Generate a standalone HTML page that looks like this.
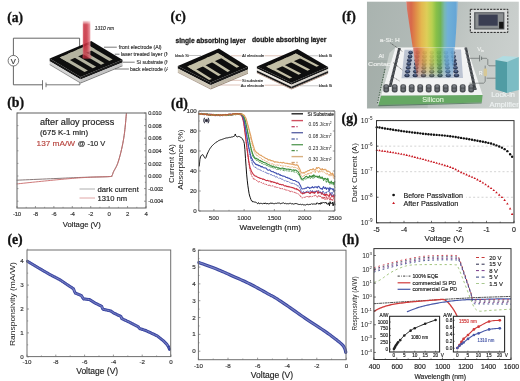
<!DOCTYPE html>
<html><head><meta charset="utf-8"><style>
html,body{margin:0;padding:0;background:#fff;}
svg{display:block;}
</style></head><body>
<svg width="520" height="381" viewBox="0 0 520 381">
<rect width="520" height="381" fill="#fff"/>
<polyline points="17.00,180.20 19.23,180.10 22.16,179.98 25.64,179.82 29.53,179.66 33.70,179.47 38.01,179.29 42.32,179.10 46.49,178.92 50.38,178.75 53.86,178.60 56.99,178.46 59.98,178.33 62.83,178.20 65.58,178.07 68.25,177.95 70.89,177.83 73.50,177.72 76.12,177.61 78.78,177.50 81.50,177.40 84.38,177.30 87.43,177.22 90.58,177.14 93.75,177.06 96.88,176.99 99.88,176.92 102.68,176.84 105.21,176.77 107.39,176.69 109.14,176.60 110.43,176.52 111.31,176.46 111.83,176.41 112.09,176.36 112.15,176.31 112.07,176.23 111.94,176.13 111.82,176.00 111.79,175.83 111.91,175.60 112.11,175.33 112.28,175.04 112.42,174.72 112.55,174.37 112.68,173.99 112.81,173.57 112.96,173.11 113.13,172.62 113.34,172.08 113.60,171.50 113.91,170.88 114.25,170.25 114.63,169.58 115.04,168.87 115.46,168.12 115.90,167.32 116.33,166.46 116.77,165.55 117.19,164.56 117.60,163.50 118.00,162.35 118.40,161.11 118.81,159.80 119.22,158.42 119.62,156.99 120.02,155.52 120.41,154.03 120.79,152.52 121.15,151.00 121.50,149.50 121.83,148.01 122.16,146.51 122.47,145.00 122.78,143.48 123.07,141.93 123.35,140.35 123.63,138.74 123.89,137.08 124.15,135.37 124.40,133.60 124.65,131.67 124.89,129.53 125.13,127.25 125.36,124.90 125.58,122.56 125.79,120.29 125.98,118.18 126.14,116.30 126.29,114.71 126.40,113.50" fill="none" stroke="#7a6a6a" stroke-width="0.9" stroke-linejoin="round" stroke-linecap="round" />
<polyline points="17.00,183.90 18.64,183.73 20.76,183.50 23.26,183.23 26.07,182.93 29.09,182.61 32.26,182.28 35.48,181.94 38.67,181.61 41.75,181.29 44.64,181.00 47.45,180.72 50.32,180.44 53.23,180.15 56.14,179.87 59.04,179.59 61.89,179.32 64.67,179.07 67.35,178.83 69.89,178.60 72.29,178.40 74.50,178.22 76.56,178.06 78.49,177.92 80.32,177.79 82.08,177.68 83.79,177.57 85.48,177.47 87.18,177.38 88.91,177.29 90.71,177.20 92.63,177.12 94.65,177.04 96.74,176.98 98.84,176.93 100.91,176.87 102.90,176.83 104.77,176.78 106.46,176.72 107.93,176.67 109.14,176.60 110.06,176.54 110.72,176.51 111.16,176.48 111.43,176.45 111.57,176.42 111.63,176.37 111.65,176.29 111.67,176.17 111.74,176.01 111.91,175.80 112.11,175.54 112.28,175.25 112.42,174.94 112.55,174.58 112.68,174.20 112.81,173.78 112.96,173.32 113.13,172.82 113.34,172.28 113.60,171.70 113.91,171.08 114.25,170.45 114.63,169.78 115.04,169.07 115.46,168.32 115.90,167.52 116.33,166.66 116.77,165.75 117.19,164.76 117.60,163.70 118.00,162.55 118.40,161.31 118.81,160.00 119.22,158.62 119.62,157.19 120.02,155.72 120.41,154.23 120.79,152.72 121.15,151.20 121.50,149.70 121.83,148.21 122.16,146.71 122.47,145.21 122.78,143.69 123.07,142.14 123.35,140.57 123.63,138.95 123.89,137.29 124.15,135.58 124.40,133.80 124.65,131.86 124.89,129.70 125.13,127.39 125.36,125.02 125.58,122.66 125.79,120.37 125.98,118.24 126.14,116.33 126.29,114.73 126.40,113.50" fill="none" stroke="#c86a6a" stroke-width="0.9" stroke-linejoin="round" stroke-linecap="round" />
<rect x="17.00" y="113.00" width="129.00" height="95.00" fill="none" stroke="#6e6e6e" stroke-width="1.1" />
<line x1="17.00" y1="208.00" x2="17.00" y2="206.00" stroke="#6e6e6e" stroke-width="0.7" />
<text x="17.00" y="215.60" font-size="6.0" fill="#333" stroke="#333" stroke-width="0.16" text-anchor="middle" font-weight="normal" font-family="'Liberation Sans', Arial, sans-serif" font-style="normal" letter-spacing="-0.3">-10</text>
<line x1="35.43" y1="208.00" x2="35.43" y2="206.00" stroke="#6e6e6e" stroke-width="0.7" />
<text x="35.43" y="215.60" font-size="6.0" fill="#333" stroke="#333" stroke-width="0.16" text-anchor="middle" font-weight="normal" font-family="'Liberation Sans', Arial, sans-serif" font-style="normal" letter-spacing="-0.3">-8</text>
<line x1="53.86" y1="208.00" x2="53.86" y2="206.00" stroke="#6e6e6e" stroke-width="0.7" />
<text x="53.86" y="215.60" font-size="6.0" fill="#333" stroke="#333" stroke-width="0.16" text-anchor="middle" font-weight="normal" font-family="'Liberation Sans', Arial, sans-serif" font-style="normal" letter-spacing="-0.3">-6</text>
<line x1="72.29" y1="208.00" x2="72.29" y2="206.00" stroke="#6e6e6e" stroke-width="0.7" />
<text x="72.29" y="215.60" font-size="6.0" fill="#333" stroke="#333" stroke-width="0.16" text-anchor="middle" font-weight="normal" font-family="'Liberation Sans', Arial, sans-serif" font-style="normal" letter-spacing="-0.3">-4</text>
<line x1="90.71" y1="208.00" x2="90.71" y2="206.00" stroke="#6e6e6e" stroke-width="0.7" />
<text x="90.71" y="215.60" font-size="6.0" fill="#333" stroke="#333" stroke-width="0.16" text-anchor="middle" font-weight="normal" font-family="'Liberation Sans', Arial, sans-serif" font-style="normal" letter-spacing="-0.3">-2</text>
<line x1="109.14" y1="208.00" x2="109.14" y2="206.00" stroke="#6e6e6e" stroke-width="0.7" />
<text x="109.14" y="215.60" font-size="6.0" fill="#333" stroke="#333" stroke-width="0.16" text-anchor="middle" font-weight="normal" font-family="'Liberation Sans', Arial, sans-serif" font-style="normal" letter-spacing="-0.3">0</text>
<line x1="127.57" y1="208.00" x2="127.57" y2="206.00" stroke="#6e6e6e" stroke-width="0.7" />
<text x="127.57" y="215.60" font-size="6.0" fill="#333" stroke="#333" stroke-width="0.16" text-anchor="middle" font-weight="normal" font-family="'Liberation Sans', Arial, sans-serif" font-style="normal" letter-spacing="-0.3">2</text>
<line x1="146.00" y1="208.00" x2="146.00" y2="206.00" stroke="#6e6e6e" stroke-width="0.7" />
<text x="146.00" y="215.60" font-size="6.0" fill="#333" stroke="#333" stroke-width="0.16" text-anchor="middle" font-weight="normal" font-family="'Liberation Sans', Arial, sans-serif" font-style="normal" letter-spacing="-0.3">4</text>
<line x1="26.21" y1="208.00" x2="26.21" y2="206.80" stroke="#6e6e6e" stroke-width="0.6" />
<line x1="44.64" y1="208.00" x2="44.64" y2="206.80" stroke="#6e6e6e" stroke-width="0.6" />
<line x1="63.07" y1="208.00" x2="63.07" y2="206.80" stroke="#6e6e6e" stroke-width="0.6" />
<line x1="81.50" y1="208.00" x2="81.50" y2="206.80" stroke="#6e6e6e" stroke-width="0.6" />
<line x1="99.93" y1="208.00" x2="99.93" y2="206.80" stroke="#6e6e6e" stroke-width="0.6" />
<line x1="118.36" y1="208.00" x2="118.36" y2="206.80" stroke="#6e6e6e" stroke-width="0.6" />
<line x1="136.79" y1="208.00" x2="136.79" y2="206.80" stroke="#6e6e6e" stroke-width="0.6" />
<line x1="146.00" y1="113.00" x2="144.00" y2="113.00" stroke="#6e6e6e" stroke-width="0.7" />
<text x="148.30" y="115.10" font-size="5.6" fill="#333" stroke="#333" stroke-width="0.16" text-anchor="start" font-weight="normal" font-family="'Liberation Sans', Arial, sans-serif" font-style="normal" letter-spacing="-0.2">0.010</text>
<line x1="146.00" y1="125.60" x2="144.00" y2="125.60" stroke="#6e6e6e" stroke-width="0.7" />
<text x="148.30" y="127.70" font-size="5.6" fill="#333" stroke="#333" stroke-width="0.16" text-anchor="start" font-weight="normal" font-family="'Liberation Sans', Arial, sans-serif" font-style="normal" letter-spacing="-0.2">0.008</text>
<line x1="146.00" y1="138.20" x2="144.00" y2="138.20" stroke="#6e6e6e" stroke-width="0.7" />
<text x="148.30" y="140.30" font-size="5.6" fill="#333" stroke="#333" stroke-width="0.16" text-anchor="start" font-weight="normal" font-family="'Liberation Sans', Arial, sans-serif" font-style="normal" letter-spacing="-0.2">0.006</text>
<line x1="146.00" y1="150.80" x2="144.00" y2="150.80" stroke="#6e6e6e" stroke-width="0.7" />
<text x="148.30" y="152.90" font-size="5.6" fill="#333" stroke="#333" stroke-width="0.16" text-anchor="start" font-weight="normal" font-family="'Liberation Sans', Arial, sans-serif" font-style="normal" letter-spacing="-0.2">0.004</text>
<line x1="146.00" y1="163.40" x2="144.00" y2="163.40" stroke="#6e6e6e" stroke-width="0.7" />
<text x="148.30" y="165.50" font-size="5.6" fill="#333" stroke="#333" stroke-width="0.16" text-anchor="start" font-weight="normal" font-family="'Liberation Sans', Arial, sans-serif" font-style="normal" letter-spacing="-0.2">0.002</text>
<line x1="146.00" y1="176.00" x2="144.00" y2="176.00" stroke="#6e6e6e" stroke-width="0.7" />
<text x="148.30" y="178.10" font-size="5.6" fill="#333" stroke="#333" stroke-width="0.16" text-anchor="start" font-weight="normal" font-family="'Liberation Sans', Arial, sans-serif" font-style="normal" letter-spacing="-0.2">0.000</text>
<line x1="146.00" y1="188.60" x2="144.00" y2="188.60" stroke="#6e6e6e" stroke-width="0.7" />
<text x="148.30" y="190.70" font-size="5.6" fill="#333" stroke="#333" stroke-width="0.16" text-anchor="start" font-weight="normal" font-family="'Liberation Sans', Arial, sans-serif" font-style="normal" letter-spacing="-0.2">-0.002</text>
<line x1="146.00" y1="201.20" x2="144.00" y2="201.20" stroke="#6e6e6e" stroke-width="0.7" />
<text x="148.30" y="203.30" font-size="5.6" fill="#333" stroke="#333" stroke-width="0.16" text-anchor="start" font-weight="normal" font-family="'Liberation Sans', Arial, sans-serif" font-style="normal" letter-spacing="-0.2">-0.004</text>
<line x1="146.00" y1="119.30" x2="144.80" y2="119.30" stroke="#6e6e6e" stroke-width="0.6" />
<line x1="146.00" y1="131.90" x2="144.80" y2="131.90" stroke="#6e6e6e" stroke-width="0.6" />
<line x1="146.00" y1="144.50" x2="144.80" y2="144.50" stroke="#6e6e6e" stroke-width="0.6" />
<line x1="146.00" y1="157.10" x2="144.80" y2="157.10" stroke="#6e6e6e" stroke-width="0.6" />
<line x1="146.00" y1="169.70" x2="144.80" y2="169.70" stroke="#6e6e6e" stroke-width="0.6" />
<line x1="146.00" y1="182.30" x2="144.80" y2="182.30" stroke="#6e6e6e" stroke-width="0.6" />
<line x1="146.00" y1="194.90" x2="144.80" y2="194.90" stroke="#6e6e6e" stroke-width="0.6" />
<line x1="146.00" y1="207.50" x2="144.80" y2="207.50" stroke="#6e6e6e" stroke-width="0.6" />
<line x1="17.00" y1="113.00" x2="18.50" y2="113.00" stroke="#6e6e6e" stroke-width="0.6" />
<line x1="17.00" y1="125.60" x2="18.50" y2="125.60" stroke="#6e6e6e" stroke-width="0.6" />
<line x1="17.00" y1="138.20" x2="18.50" y2="138.20" stroke="#6e6e6e" stroke-width="0.6" />
<line x1="17.00" y1="150.80" x2="18.50" y2="150.80" stroke="#6e6e6e" stroke-width="0.6" />
<line x1="17.00" y1="163.40" x2="18.50" y2="163.40" stroke="#6e6e6e" stroke-width="0.6" />
<line x1="17.00" y1="176.00" x2="18.50" y2="176.00" stroke="#6e6e6e" stroke-width="0.6" />
<line x1="17.00" y1="188.60" x2="18.50" y2="188.60" stroke="#6e6e6e" stroke-width="0.6" />
<line x1="17.00" y1="201.20" x2="18.50" y2="201.20" stroke="#6e6e6e" stroke-width="0.6" />
<text x="81.80" y="226.50" font-size="7.9" fill="#222" stroke="#222" stroke-width="0.16" text-anchor="middle" font-weight="normal" font-family="'Liberation Sans', Arial, sans-serif" font-style="normal" textLength="38" lengthAdjust="spacingAndGlyphs" >Voltage (V)</text>
<text x="39.90" y="125.30" font-size="8.6" fill="#222" stroke="#222" stroke-width="0.16" text-anchor="start" font-weight="normal" font-family="'Liberation Sans', Arial, sans-serif" font-style="normal" textLength="74.4" lengthAdjust="spacingAndGlyphs" >after alloy process</text>
<text x="39.90" y="135.10" font-size="7.5" fill="#222" stroke="#222" stroke-width="0.16" text-anchor="start" font-weight="normal" font-family="'Liberation Sans', Arial, sans-serif" font-style="normal" textLength="48.2" lengthAdjust="spacingAndGlyphs" >(675 K-1 min)</text>
<text x="36.60" y="145.70" font-size="7.8" fill="#b8453f" stroke="#b8453f" stroke-width="0.16" text-anchor="start" font-weight="normal" font-family="'Liberation Sans', Arial, sans-serif" font-style="normal" textLength="38.4" lengthAdjust="spacingAndGlyphs" >137 mA/W</text>
<text x="77.80" y="145.70" font-size="7.8" fill="#222" stroke="#222" stroke-width="0.16" text-anchor="start" font-weight="normal" font-family="'Liberation Sans', Arial, sans-serif" font-style="normal" textLength="27.5" lengthAdjust="spacingAndGlyphs" >@ -10 V</text>
<line x1="79.50" y1="189.00" x2="95.00" y2="189.00" stroke="#9a9a9a" stroke-width="0.8" />
<line x1="79.50" y1="198.00" x2="95.00" y2="198.00" stroke="#d89090" stroke-width="0.8" />
<text x="97.50" y="191.60" font-size="7.2" fill="#222" stroke="#222" stroke-width="0.16" text-anchor="start" font-weight="normal" font-family="'Liberation Sans', Arial, sans-serif" font-style="normal" textLength="41.3" lengthAdjust="spacingAndGlyphs" >dark current</text>
<text x="97.50" y="200.80" font-size="7.6" fill="#222" stroke="#222" stroke-width="0.16" text-anchor="start" font-weight="normal" font-family="'Liberation Sans', Arial, sans-serif" font-style="normal" textLength="29.5" lengthAdjust="spacingAndGlyphs" >1310 nm</text>
<text x="7.20" y="106.90" font-size="13.8" fill="#111" stroke="#111" stroke-width="0.3" text-anchor="start" font-weight="bold" font-family="'Liberation Serif', 'Times New Roman', serif" font-style="normal" >(b)</text>
<polyline points="199.00,113.36 199.70,113.86 200.40,113.93 201.10,114.16 201.80,113.57 202.50,113.69 203.20,113.67 203.90,113.82 204.60,114.40 205.30,113.86 206.00,114.33 206.70,114.08 207.40,114.23 208.10,114.44 208.80,114.91 209.50,114.74 210.20,114.20 210.90,114.51 211.60,114.42 212.30,115.19 213.00,115.16 213.70,115.19 214.40,115.24 215.10,115.19 215.80,115.43 216.50,115.30 217.20,114.78 217.90,115.40 218.60,115.05 219.30,115.34 220.00,115.16 220.70,115.03 221.40,114.97 222.10,115.03 222.80,114.90 223.50,114.68 224.20,115.35 224.90,115.29 225.60,115.44 226.30,115.09 227.00,114.90 227.70,115.04 228.40,114.37 229.10,114.85 229.80,114.56 230.50,114.23 231.20,114.20 231.90,114.45 232.60,114.10 233.30,114.23 234.00,114.30 234.70,114.01 235.40,113.68 236.10,113.98 236.80,113.68 237.50,113.64 238.20,113.56 238.90,113.72 239.60,113.44 240.30,114.09 241.00,115.15 241.70,115.60 242.40,117.26 243.10,119.90 243.80,122.94 244.50,127.96 245.20,133.82 245.90,139.54 246.60,145.18 247.30,150.21 248.00,155.38 248.70,160.43 249.40,164.51 250.10,167.70 250.80,169.41 251.50,171.64 252.20,172.38 252.90,173.89 253.60,174.28 254.30,175.69 255.00,175.78 255.70,176.32 256.40,176.20 257.10,176.97 257.80,177.29 258.50,177.63 259.20,177.72 259.90,178.39 260.60,178.30 261.30,178.53 262.00,178.67 262.70,179.44 263.40,179.11 264.10,179.46 264.80,179.52 265.50,180.31 266.20,180.42 266.90,180.61 267.60,180.30 268.30,180.89 269.00,180.99 269.70,180.93 270.40,181.02 271.10,182.20 271.80,181.51 272.50,181.88 273.20,182.04 273.90,182.56 274.60,182.23 275.30,182.82 276.00,182.91 276.70,183.58 277.40,182.95 278.10,183.49 278.80,183.85 279.50,184.53 280.20,184.28 280.90,184.44 281.60,184.84 282.30,184.68 283.00,184.62 283.70,185.30 284.40,185.91 285.10,185.95 285.80,185.68 286.50,186.31 287.20,186.69 287.90,186.31 288.60,186.85 289.30,186.83 290.00,186.92 290.70,187.18 291.40,187.30 292.10,187.66 292.80,187.55 293.50,188.12 294.20,188.02 294.90,188.91 295.60,188.97 296.30,188.61 297.00,189.63 297.70,189.34 298.40,189.97 299.10,190.54 299.80,191.12 300.50,191.98 301.20,193.08 301.90,192.93 302.60,193.80 303.30,192.72 304.00,193.58 304.70,192.61 305.40,192.66 306.10,192.72 306.80,192.04 307.50,192.12 308.20,192.46 308.90,192.55 309.60,193.37 310.30,193.59 311.00,191.56 311.70,192.56 312.40,191.59 313.10,193.10 313.80,191.92 314.50,193.31 315.20,192.44 315.90,191.35 316.60,191.03 317.30,191.73 318.00,193.57 318.70,191.60 319.40,192.69 320.10,192.50 320.80,192.55 321.50,194.17 322.20,192.42 322.90,194.26 323.60,194.26 324.30,195.37 325.00,194.07 325.70,195.69 326.40,194.09 327.10,194.75 327.80,195.09 328.50,196.12 329.20,196.54 329.90,193.54 330.60,193.77 331.30,195.58 332.00,196.94 332.70,195.91 333.40,195.04 334.10,198.17 334.80,195.33" fill="none" stroke="#c83040" stroke-width="1.1" stroke-linejoin="round" stroke-linecap="round" />
<polyline points="199.00,114.32 199.70,114.42 200.40,114.44 201.10,113.70 201.80,114.28 202.50,114.18 203.20,114.36 203.90,114.03 204.60,114.15 205.30,114.47 206.00,114.32 206.70,114.62 207.40,114.26 208.10,114.39 208.80,115.08 209.50,114.85 210.20,115.00 210.90,115.27 211.60,114.94 212.30,114.67 213.00,115.43 213.70,115.27 214.40,115.38 215.10,115.37 215.80,115.75 216.50,115.17 217.20,115.59 217.90,115.22 218.60,115.44 219.30,115.54 220.00,115.21 220.70,114.99 221.40,115.38 222.10,115.62 222.80,115.48 223.50,115.31 224.20,115.47 224.90,114.98 225.60,114.93 226.30,115.03 227.00,115.46 227.70,114.79 228.40,114.65 229.10,114.57 229.80,114.46 230.50,114.63 231.20,114.87 231.90,115.04 232.60,114.48 233.30,114.44 234.00,114.28 234.70,114.22 235.40,114.63 236.10,114.34 236.80,114.00 237.50,113.81 238.20,114.45 238.90,114.36 239.60,114.49 240.30,113.98 241.00,115.05 241.70,116.43 242.40,117.44 243.10,120.21 243.80,123.33 244.50,129.04 245.20,133.40 245.90,139.59 246.60,145.22 247.30,151.77 248.00,156.93 248.70,162.29 249.40,166.69 250.10,170.57 250.80,172.92 251.50,175.36 252.20,176.66 252.90,177.60 253.60,179.19 254.30,179.12 255.00,179.37 255.70,179.67 256.40,180.45 257.10,180.55 257.80,181.64 258.50,181.99 259.20,181.58 259.90,181.77 260.60,182.49 261.30,182.41 262.00,183.05 262.70,183.57 263.40,183.25 264.10,183.65 264.80,184.35 265.50,184.11 266.20,184.21 266.90,184.96 267.60,185.08 268.30,185.35 269.00,185.33 269.70,185.25 270.40,185.71 271.10,186.04 271.80,186.03 272.50,185.82 273.20,186.06 273.90,186.37 274.60,186.92 275.30,186.90 276.00,187.09 276.70,187.57 277.40,187.06 278.10,187.78 278.80,187.69 279.50,188.12 280.20,188.60 280.90,188.22 281.60,189.13 282.30,188.46 283.00,189.15 283.70,189.34 284.40,189.24 285.10,189.77 285.80,189.89 286.50,190.08 287.20,190.55 287.90,190.05 288.60,190.64 289.30,191.26 290.00,190.82 290.70,191.76 291.40,191.30 292.10,191.99 292.80,191.69 293.50,192.17 294.20,192.36 294.90,192.23 295.60,193.07 296.30,193.09 297.00,193.55 297.70,193.68 298.40,194.05 299.10,194.52 299.80,195.09 300.50,196.62 301.20,196.69 301.90,197.82 302.60,197.80 303.30,197.24 304.00,197.52 304.70,197.29 305.40,197.13 306.10,196.56 306.80,196.53 307.50,196.51 308.20,196.35 308.90,197.55 309.60,196.31 310.30,196.35 311.00,196.37 311.70,197.18 312.40,196.38 313.10,196.51 313.80,195.76 314.50,195.78 315.20,195.27 315.90,195.59 316.60,195.73 317.30,197.41 318.00,196.53 318.70,195.49 319.40,196.64 320.10,195.73 320.80,197.25 321.50,197.01 322.20,198.54 322.90,196.72 323.60,198.89 324.30,196.96 325.00,199.72 325.70,198.64 326.40,196.61 327.10,199.63 327.80,197.76 328.50,198.25 329.20,197.53 329.90,200.49 330.60,197.57 331.30,200.44 332.00,199.15 332.70,200.55 333.40,199.01 334.10,198.19 334.80,202.15" fill="none" stroke="#c83040" stroke-width="0.9" stroke-linejoin="round" stroke-linecap="round" stroke-dasharray="2.6,1.4,0.8,1.4" opacity="0.9"/>
<polyline points="199.00,113.57 199.70,113.83 200.40,113.91 201.10,113.46 201.80,113.40 202.50,113.83 203.20,113.80 203.90,114.41 204.60,114.35 205.30,114.33 206.00,114.35 206.70,114.53 207.40,114.08 208.10,114.44 208.80,114.23 209.50,115.04 210.20,114.24 210.90,115.05 211.60,114.35 212.30,115.00 213.00,114.69 213.70,114.79 214.40,115.26 215.10,114.47 215.80,114.54 216.50,115.42 217.20,115.04 217.90,114.64 218.60,115.55 219.30,115.53 220.00,114.71 220.70,115.02 221.40,114.74 222.10,114.91 222.80,115.21 223.50,114.73 224.20,115.23 224.90,114.55 225.60,114.62 226.30,115.22 227.00,114.75 227.70,114.71 228.40,114.83 229.10,114.65 229.80,114.50 230.50,114.09 231.20,114.72 231.90,114.89 232.60,114.82 233.30,114.43 234.00,114.05 234.70,113.98 235.40,114.24 236.10,114.17 236.80,113.56 237.50,113.64 238.20,113.74 238.90,113.87 239.60,114.18 240.30,113.93 241.00,113.63 241.70,115.15 242.40,115.56 243.10,116.89 243.80,118.85 244.50,122.37 245.20,126.21 245.90,130.60 246.60,134.24 247.30,139.01 248.00,142.68 248.70,146.94 249.40,149.83 250.10,153.22 250.80,155.85 251.50,158.10 252.20,159.05 252.90,160.78 253.60,161.88 254.30,162.76 255.00,163.45 255.70,164.36 256.40,164.27 257.10,165.10 257.80,164.65 258.50,165.74 259.20,165.50 259.90,165.64 260.60,166.52 261.30,167.00 262.00,166.41 262.70,166.99 263.40,167.81 264.10,167.70 264.80,167.92 265.50,168.00 266.20,168.35 266.90,169.24 267.60,169.92 268.30,170.25 269.00,170.07 269.70,169.90 270.40,170.51 271.10,171.28 271.80,171.63 272.50,171.75 273.20,171.64 273.90,172.24 274.60,172.50 275.30,172.94 276.00,172.88 276.70,173.86 277.40,174.10 278.10,173.65 278.80,174.07 279.50,174.94 280.20,174.63 280.90,175.57 281.60,175.42 282.30,175.88 283.00,176.17 283.70,175.96 284.40,176.31 285.10,176.55 285.80,177.26 286.50,177.55 287.20,177.26 287.90,178.29 288.60,178.10 289.30,178.20 290.00,178.67 290.70,179.48 291.40,179.32 292.10,179.64 292.80,180.19 293.50,180.48 294.20,180.54 294.90,180.46 295.60,180.91 296.30,181.54 297.00,181.79 297.70,182.02 298.40,182.32 299.10,183.07 299.80,184.43 300.50,185.82 301.20,187.51 301.90,188.81 302.60,189.07 303.30,188.79 304.00,188.76 304.70,188.65 305.40,188.02 306.10,188.37 306.80,187.63 307.50,187.06 308.20,187.44 308.90,187.30 309.60,188.48 310.30,187.97 311.00,187.63 311.70,187.77 312.40,186.60 313.10,187.50 313.80,187.87 314.50,187.10 315.20,186.70 315.90,187.12 316.60,186.90 317.30,187.94 318.00,186.46 318.70,186.35 319.40,187.07 320.10,188.32 320.80,188.63 321.50,188.44 322.20,189.46 322.90,187.70 323.60,186.65 324.30,188.34 325.00,188.30 325.70,187.45 326.40,189.37 327.10,188.27 327.80,187.99 328.50,188.46 329.20,191.04 329.90,187.40 330.60,188.96 331.30,188.75 332.00,188.53 332.70,189.66 333.40,188.85 334.10,192.11 334.80,190.37" fill="none" stroke="#4050b0" stroke-width="1.1" stroke-linejoin="round" stroke-linecap="round" />
<polyline points="199.00,114.36 199.70,113.61 200.40,113.57 201.10,114.61 201.80,113.87 202.50,113.88 203.20,114.48 203.90,114.24 204.60,114.85 205.30,114.26 206.00,115.06 206.70,114.49 207.40,114.84 208.10,115.24 208.80,115.05 209.50,115.35 210.20,115.19 210.90,114.58 211.60,115.46 212.30,115.21 213.00,114.96 213.70,114.88 214.40,115.57 215.10,115.33 215.80,115.71 216.50,115.58 217.20,115.79 217.90,115.42 218.60,115.57 219.30,115.49 220.00,115.15 220.70,115.86 221.40,115.21 222.10,115.68 222.80,115.84 223.50,115.51 224.20,114.97 224.90,115.62 225.60,115.42 226.30,114.89 227.00,114.70 227.70,115.12 228.40,114.56 229.10,115.40 229.80,114.92 230.50,114.88 231.20,114.70 231.90,114.88 232.60,115.06 233.30,114.38 234.00,114.37 234.70,114.50 235.40,114.15 236.10,114.39 236.80,114.29 237.50,114.14 238.20,114.35 238.90,114.18 239.60,113.76 240.30,114.73 241.00,114.25 241.70,115.05 242.40,115.83 243.10,117.60 243.80,119.87 244.50,122.69 245.20,126.47 245.90,130.32 246.60,135.67 247.30,139.56 248.00,144.31 248.70,148.28 249.40,152.28 250.10,155.92 250.80,158.70 251.50,160.81 252.20,163.11 252.90,164.89 253.60,166.19 254.30,166.50 255.00,167.47 255.70,167.25 256.40,168.00 257.10,168.77 257.80,169.21 258.50,169.07 259.20,169.78 259.90,169.75 260.60,170.09 261.30,170.47 262.00,171.19 262.70,171.26 263.40,171.31 264.10,171.88 264.80,172.12 265.50,172.15 266.20,172.89 266.90,173.24 267.60,173.35 268.30,173.99 269.00,173.38 269.70,174.18 270.40,174.62 271.10,174.64 271.80,174.77 272.50,175.60 273.20,175.65 273.90,175.79 274.60,175.86 275.30,177.08 276.00,176.77 276.70,176.83 277.40,177.22 278.10,177.55 278.80,178.44 279.50,178.04 280.20,178.42 280.90,178.53 281.60,179.18 282.30,179.20 283.00,179.61 283.70,180.28 284.40,180.75 285.10,180.93 285.80,180.41 286.50,181.03 287.20,181.78 287.90,181.24 288.60,181.69 289.30,182.25 290.00,182.42 290.70,183.05 291.40,183.28 292.10,183.28 292.80,183.32 293.50,183.55 294.20,183.84 294.90,183.91 295.60,184.79 296.30,184.60 297.00,185.69 297.70,185.88 298.40,185.83 299.10,187.00 299.80,188.10 300.50,189.07 301.20,191.84 301.90,191.80 302.60,192.70 303.30,191.53 304.00,192.18 304.70,192.56 305.40,192.30 306.10,191.26 306.80,191.69 307.50,190.93 308.20,191.22 308.90,192.16 309.60,192.05 310.30,190.37 311.00,191.09 311.70,191.61 312.40,190.52 313.10,191.93 313.80,192.14 314.50,191.29 315.20,190.80 315.90,192.08 316.60,191.22 317.30,190.36 318.00,190.64 318.70,190.35 319.40,192.44 320.10,191.55 320.80,192.23 321.50,192.74 322.20,193.39 322.90,190.91 323.60,191.74 324.30,193.49 325.00,193.23 325.70,192.01 326.40,193.12 327.10,191.52 327.80,191.50 328.50,191.17 329.20,192.59 329.90,192.13 330.60,193.41 331.30,195.46 332.00,192.12 332.70,194.00 333.40,195.51 334.10,194.47 334.80,194.29" fill="none" stroke="#4050b0" stroke-width="0.9" stroke-linejoin="round" stroke-linecap="round" stroke-dasharray="2.6,1.4,0.8,1.4" opacity="0.9"/>
<polyline points="199.00,113.55 199.70,113.73 200.40,114.17 201.10,113.78 201.80,113.89 202.50,114.04 203.20,113.71 203.90,114.11 204.60,114.29 205.30,114.52 206.00,113.89 206.70,114.17 207.40,114.03 208.10,114.81 208.80,114.76 209.50,114.17 210.20,115.17 210.90,115.20 211.60,114.93 212.30,114.93 213.00,114.51 213.70,114.40 214.40,114.95 215.10,114.51 215.80,114.67 216.50,114.74 217.20,114.56 217.90,115.01 218.60,115.01 219.30,115.42 220.00,115.11 220.70,115.24 221.40,115.10 222.10,115.26 222.80,115.04 223.50,114.84 224.20,115.53 224.90,115.49 225.60,115.29 226.30,115.11 227.00,114.66 227.70,114.52 228.40,114.52 229.10,114.24 229.80,114.88 230.50,114.46 231.20,114.84 231.90,114.31 232.60,114.81 233.30,114.62 234.00,113.69 234.70,113.83 235.40,114.46 236.10,113.96 236.80,114.43 237.50,113.80 238.20,113.45 238.90,113.99 239.60,114.15 240.30,113.69 241.00,113.60 241.70,114.12 242.40,115.27 243.10,115.73 243.80,116.18 244.50,118.10 245.20,120.36 245.90,123.14 246.60,127.00 247.30,129.77 248.00,133.62 248.70,136.92 249.40,140.16 250.10,144.18 250.80,146.79 251.50,150.16 252.20,152.24 252.90,154.62 253.60,155.88 254.30,156.95 255.00,158.15 255.70,158.38 256.40,158.29 257.10,159.28 257.80,159.01 258.50,159.59 259.20,160.43 259.90,160.60 260.60,160.43 261.30,161.69 262.00,161.28 262.70,161.68 263.40,162.55 264.10,162.46 264.80,162.77 265.50,162.88 266.20,163.23 266.90,164.04 267.60,164.01 268.30,164.67 269.00,164.74 269.70,165.11 270.40,165.90 271.10,165.69 271.80,166.04 272.50,166.58 273.20,166.13 273.90,166.31 274.60,167.28 275.30,167.38 276.00,167.00 276.70,167.11 277.40,167.82 278.10,168.16 278.80,167.55 279.50,168.44 280.20,168.49 280.90,168.33 281.60,168.26 282.30,168.05 283.00,168.09 283.70,169.12 284.40,168.49 285.10,169.06 285.80,168.72 286.50,169.39 287.20,169.27 287.90,169.08 288.60,169.07 289.30,169.72 290.00,169.16 290.70,169.40 291.40,169.82 292.10,170.19 292.80,170.04 293.50,169.80 294.20,170.55 294.90,169.98 295.60,169.98 296.30,170.50 297.00,171.04 297.70,171.22 298.40,172.26 299.10,173.54 299.80,175.25 300.50,176.62 301.20,178.16 301.90,179.22 302.60,179.27 303.30,178.52 304.00,178.18 304.70,177.72 305.40,176.84 306.10,176.48 306.80,176.27 307.50,177.67 308.20,177.18 308.90,177.57 309.60,175.61 310.30,176.73 311.00,176.27 311.70,176.66 312.40,175.58 313.10,177.02 313.80,174.69 314.50,175.74 315.20,176.16 315.90,176.59 316.60,176.21 317.30,176.22 318.00,176.62 318.70,177.17 319.40,175.73 320.10,176.98 320.80,177.93 321.50,178.15 322.20,176.99 322.90,178.54 323.60,179.12 324.30,178.44 325.00,178.95 325.70,178.39 326.40,179.45 327.10,179.89 327.80,178.20 328.50,180.72 329.20,182.50 329.90,182.42 330.60,182.18 331.30,181.12 332.00,182.96 332.70,182.67 333.40,182.41 334.10,184.57 334.80,181.49" fill="none" stroke="#3f8f3f" stroke-width="1.1" stroke-linejoin="round" stroke-linecap="round" />
<polyline points="199.00,113.56 199.70,114.16 200.40,114.18 201.10,114.09 201.80,113.90 202.50,114.55 203.20,114.63 203.90,114.41 204.60,114.47 205.30,114.26 206.00,114.10 206.70,114.54 207.40,114.82 208.10,114.37 208.80,115.16 209.50,114.66 210.20,114.72 210.90,114.58 211.60,115.57 212.30,115.35 213.00,115.53 213.70,115.30 214.40,114.75 215.10,115.08 215.80,115.27 216.50,114.92 217.20,115.78 217.90,115.22 218.60,115.02 219.30,115.70 220.00,115.02 220.70,115.83 221.40,115.36 222.10,115.45 222.80,115.23 223.50,115.35 224.20,115.02 224.90,114.83 225.60,115.62 226.30,114.94 227.00,115.43 227.70,114.80 228.40,115.50 229.10,115.37 229.80,115.17 230.50,115.12 231.20,114.87 231.90,114.95 232.60,114.27 233.30,114.55 234.00,114.82 234.70,114.12 235.40,114.77 236.10,114.68 236.80,114.16 237.50,114.07 238.20,114.13 238.90,114.05 239.60,114.67 240.30,114.11 241.00,113.84 241.70,114.18 242.40,115.32 243.10,116.26 243.80,116.86 244.50,118.64 245.20,121.09 245.90,124.12 246.60,126.78 247.30,130.65 248.00,134.19 248.70,137.81 249.40,141.05 250.10,144.73 250.80,148.30 251.50,151.86 252.20,153.98 252.90,156.37 253.60,157.58 254.30,158.40 255.00,158.85 255.70,159.99 256.40,160.36 257.10,160.37 257.80,161.08 258.50,161.47 259.20,162.08 259.90,162.52 260.60,162.34 261.30,163.29 262.00,163.63 262.70,163.62 263.40,164.26 264.10,164.22 264.80,164.45 265.50,164.65 266.20,165.61 266.90,165.22 267.60,165.43 268.30,166.47 269.00,166.74 269.70,166.74 270.40,167.37 271.10,166.86 271.80,167.32 272.50,167.60 273.20,167.96 273.90,167.93 274.60,168.04 275.30,168.50 276.00,169.25 276.70,169.50 277.40,169.42 278.10,169.30 278.80,169.21 279.50,170.05 280.20,169.73 280.90,170.05 281.60,169.46 282.30,169.76 283.00,170.49 283.70,170.55 284.40,170.74 285.10,170.56 285.80,170.49 286.50,170.75 287.20,171.12 287.90,170.69 288.60,171.03 289.30,170.87 290.00,171.46 290.70,170.78 291.40,171.54 292.10,171.89 292.80,171.05 293.50,171.72 294.20,171.88 294.90,172.23 295.60,172.15 296.30,172.09 297.00,172.60 297.70,173.72 298.40,174.59 299.10,174.90 299.80,176.38 300.50,178.18 301.20,179.38 301.90,180.29 302.60,179.80 303.30,180.40 304.00,179.73 304.70,178.64 305.40,179.06 306.10,178.55 306.80,178.68 307.50,178.05 308.20,177.79 308.90,177.68 309.60,177.92 310.30,178.48 311.00,178.01 311.70,176.75 312.40,178.08 313.10,178.33 313.80,177.99 314.50,177.95 315.20,175.90 315.90,177.04 316.60,175.98 317.30,177.98 318.00,176.46 318.70,178.18 319.40,177.03 320.10,178.61 320.80,177.69 321.50,177.09 322.20,178.50 322.90,178.53 323.60,180.85 324.30,179.07 325.00,180.11 325.70,180.60 326.40,182.41 327.10,179.56 327.80,181.81 328.50,181.80 329.20,183.06 329.90,184.38 330.60,182.05 331.30,184.03 332.00,183.66 332.70,184.18 333.40,182.34 334.10,186.06 334.80,187.18" fill="none" stroke="#3f8f3f" stroke-width="0.9" stroke-linejoin="round" stroke-linecap="round" stroke-dasharray="2.6,1.4,0.8,1.4" opacity="0.9"/>
<polyline points="199.00,113.67 199.70,113.60 200.40,113.82 201.10,113.52 201.80,114.20 202.50,114.28 203.20,114.18 203.90,113.76 204.60,114.18 205.30,114.06 206.00,114.05 206.70,114.82 207.40,114.93 208.10,114.05 208.80,114.93 209.50,114.73 210.20,114.57 210.90,114.52 211.60,114.95 212.30,114.77 213.00,115.04 213.70,115.05 214.40,114.55 215.10,115.22 215.80,115.46 216.50,115.47 217.20,115.14 217.90,114.59 218.60,114.57 219.30,114.72 220.00,115.54 220.70,114.90 221.40,114.97 222.10,115.50 222.80,114.90 223.50,115.11 224.20,114.97 224.90,114.56 225.60,115.04 226.30,115.25 227.00,114.51 227.70,114.52 228.40,114.65 229.10,114.21 229.80,114.61 230.50,114.88 231.20,114.65 231.90,114.46 232.60,114.70 233.30,113.92 234.00,114.26 234.70,113.99 235.40,114.15 236.10,113.61 236.80,114.22 237.50,113.51 238.20,113.55 238.90,114.18 239.60,114.33 240.30,113.85 241.00,113.90 241.70,113.86 242.40,114.13 243.10,114.82 243.80,114.88 244.50,115.62 245.20,117.02 245.90,118.11 246.60,120.45 247.30,122.92 248.00,125.45 248.70,127.83 249.40,130.41 250.10,133.30 250.80,135.73 251.50,139.26 252.20,141.59 252.90,144.24 253.60,146.41 254.30,148.84 255.00,150.71 255.70,151.38 256.40,152.54 257.10,152.94 257.80,153.06 258.50,153.86 259.20,154.74 259.90,154.83 260.60,155.37 261.30,155.28 262.00,156.14 262.70,156.53 263.40,156.87 264.10,157.30 264.80,157.86 265.50,158.20 266.20,158.53 266.90,158.58 267.60,159.22 268.30,160.08 269.00,159.85 269.70,159.78 270.40,160.04 271.10,160.83 271.80,160.59 272.50,160.85 273.20,161.05 273.90,161.55 274.60,162.23 275.30,161.84 276.00,161.91 276.70,161.97 277.40,162.11 278.10,162.13 278.80,162.47 279.50,162.71 280.20,162.58 280.90,162.38 281.60,162.69 282.30,163.04 283.00,162.38 283.70,162.56 284.40,163.04 285.10,163.20 285.80,163.25 286.50,163.28 287.20,163.61 287.90,163.35 288.60,163.77 289.30,164.01 290.00,163.58 290.70,164.10 291.40,164.06 292.10,164.33 292.80,163.60 293.50,164.59 294.20,164.57 294.90,164.91 295.60,165.10 296.30,164.62 297.00,165.26 297.70,165.12 298.40,166.46 299.10,168.10 299.80,169.02 300.50,171.23 301.20,172.40 301.90,173.01 302.60,172.94 303.30,172.42 304.00,173.22 304.70,172.71 305.40,171.78 306.10,171.93 306.80,171.55 307.50,170.94 308.20,170.47 308.90,170.66 309.60,170.23 310.30,169.44 311.00,169.44 311.70,169.83 312.40,169.67 313.10,168.54 313.80,169.35 314.50,169.89 315.20,169.81 315.90,169.17 316.60,167.56 317.30,168.49 318.00,167.54 318.70,167.44 319.40,168.05 320.10,168.73 320.80,169.77 321.50,169.49 322.20,168.50 322.90,170.04 323.60,169.59 324.30,169.80 325.00,169.16 325.70,170.04 326.40,169.94 327.10,171.68 327.80,171.06 328.50,171.24 329.20,171.68 329.90,172.02 330.60,173.23 331.30,173.71 332.00,174.42 332.70,173.06 333.40,175.12 334.10,176.26 334.80,176.76" fill="none" stroke="#e0a060" stroke-width="1.1" stroke-linejoin="round" stroke-linecap="round" />
<polyline points="199.00,114.31 199.70,114.16 200.40,114.31 201.10,114.52 201.80,113.95 202.50,114.39 203.20,114.73 203.90,114.77 204.60,114.54 205.30,114.20 206.00,114.51 206.70,115.16 207.40,114.34 208.10,114.62 208.80,115.32 209.50,114.88 210.20,114.69 210.90,114.85 211.60,115.49 212.30,114.95 213.00,115.08 213.70,115.31 214.40,115.52 215.10,115.24 215.80,114.86 216.50,115.38 217.20,114.86 217.90,114.94 218.60,115.06 219.30,115.58 220.00,115.18 220.70,115.59 221.40,115.07 222.10,115.02 222.80,114.91 223.50,115.57 224.20,115.69 224.90,115.01 225.60,114.99 226.30,114.72 227.00,115.29 227.70,114.89 228.40,114.67 229.10,115.12 229.80,115.02 230.50,114.81 231.20,114.45 231.90,114.86 232.60,114.70 233.30,114.50 234.00,114.16 234.70,114.85 235.40,114.71 236.10,114.48 236.80,114.74 237.50,114.29 238.20,114.03 238.90,113.79 239.60,114.29 240.30,114.24 241.00,114.22 241.70,114.91 242.40,115.00 243.10,114.62 243.80,115.89 244.50,115.80 245.20,117.44 245.90,118.43 246.60,120.81 247.30,123.63 248.00,126.16 248.70,129.46 249.40,131.82 250.10,135.63 250.80,138.31 251.50,141.81 252.20,144.65 252.90,147.10 253.60,150.11 254.30,151.48 255.00,153.39 255.70,154.08 256.40,155.33 257.10,155.57 257.80,155.86 258.50,156.36 259.20,157.05 259.90,157.82 260.60,157.78 261.30,158.24 262.00,159.31 262.70,159.59 263.40,159.61 264.10,160.19 264.80,160.40 265.50,160.94 266.20,161.43 266.90,161.63 267.60,161.97 268.30,162.34 269.00,162.74 269.70,163.30 270.40,163.92 271.10,163.95 271.80,163.99 272.50,163.76 273.20,164.13 273.90,164.73 274.60,164.64 275.30,165.20 276.00,165.36 276.70,164.83 277.40,164.97 278.10,164.98 278.80,165.42 279.50,164.91 280.20,165.16 280.90,165.84 281.60,165.41 282.30,166.10 283.00,165.62 283.70,166.16 284.40,165.88 285.10,165.61 285.80,166.18 286.50,165.90 287.20,166.70 287.90,166.57 288.60,166.49 289.30,166.97 290.00,166.69 290.70,167.21 291.40,167.06 292.10,166.63 292.80,166.85 293.50,167.52 294.20,166.91 294.90,167.93 295.60,167.16 296.30,168.08 297.00,168.21 297.70,168.38 298.40,169.47 299.10,170.76 299.80,172.18 300.50,174.16 301.20,175.37 301.90,176.56 302.60,176.79 303.30,175.79 304.00,176.02 304.70,174.98 305.40,174.46 306.10,175.02 306.80,174.94 307.50,173.18 308.20,174.29 308.90,173.00 309.60,173.66 310.30,172.49 311.00,173.78 311.70,172.19 312.40,171.72 313.10,171.18 313.80,171.20 314.50,170.94 315.20,172.67 315.90,170.51 316.60,170.69 317.30,170.98 318.00,170.69 318.70,172.54 319.40,170.31 320.10,172.42 320.80,171.48 321.50,170.94 322.20,171.33 322.90,172.47 323.60,171.70 324.30,172.40 325.00,172.60 325.70,173.39 326.40,174.28 327.10,173.03 327.80,174.55 328.50,175.29 329.20,173.96 329.90,176.18 330.60,173.71 331.30,175.75 332.00,175.49 332.70,174.84 333.40,177.53 334.10,178.75 334.80,177.43" fill="none" stroke="#e0a060" stroke-width="0.9" stroke-linejoin="round" stroke-linecap="round" stroke-dasharray="2.6,1.4,0.8,1.4" opacity="0.9"/>
<polyline points="199.00,113.67 199.70,113.80 200.40,114.06 201.10,113.59 201.80,114.04 202.50,114.35 203.20,114.44 203.90,113.78 204.60,114.31 205.30,114.35 206.00,114.30 206.70,114.83 207.40,114.46 208.10,114.45 208.80,115.01 209.50,114.77 210.20,114.49 210.90,114.54 211.60,114.77 212.30,114.37 213.00,114.96 213.70,115.12 214.40,114.84 215.10,115.29 215.80,115.40 216.50,115.06 217.20,115.21 217.90,114.67 218.60,114.62 219.30,115.56 220.00,114.88 220.70,114.81 221.40,115.50 222.10,115.35 222.80,114.71 223.50,114.88 224.20,114.77 224.90,114.77 225.60,114.46 226.30,114.93 227.00,114.65 227.70,114.69 228.40,114.42 229.10,114.28 229.80,114.15 230.50,114.93 231.20,114.74 231.90,114.48 232.60,113.97 233.30,113.92 234.00,113.81 234.70,113.93 235.40,113.61 236.10,113.77 236.80,113.65 237.50,113.61 238.20,114.05 238.90,113.84 239.60,113.86 240.30,113.78 241.00,114.24" fill="none" stroke="#b0603a" stroke-width="1.2" stroke-linejoin="round" stroke-linecap="round" />
<polyline points="199.30,166.04 199.90,159.35 200.50,156.81 201.10,155.83 201.70,155.10 202.30,154.76 202.90,154.68 203.50,155.72 204.10,156.77 204.70,157.65 205.30,158.38 205.90,157.64 206.50,156.09 207.10,154.21 207.70,152.94 208.30,151.72 208.90,150.41 209.50,149.42 210.10,148.39 210.70,147.60 211.30,146.75 211.90,145.90 212.50,145.50 213.10,144.75 213.70,144.37 214.30,143.71 214.90,143.17 215.50,142.95 216.10,142.29 216.70,141.84 217.30,141.65 217.90,141.22 218.50,140.69 219.10,140.58 219.70,140.17 220.30,139.97 220.90,139.60 221.50,139.61 222.10,139.32 222.70,139.20 223.30,138.99 223.90,138.63 224.50,138.49 225.10,138.28 225.70,138.13 226.30,137.96 226.90,137.90 227.50,137.86 228.10,137.56 228.70,137.65 229.30,137.43 229.90,137.31 230.50,137.36 231.10,137.14 231.70,136.98 232.30,136.91 232.90,136.84 233.50,136.48 234.10,136.54 234.70,135.46 235.30,133.98 235.90,135.90 236.50,136.52 237.10,137.10 237.70,136.67 238.30,136.51 238.90,136.43 239.50,136.61 240.10,136.87 240.70,137.38 241.30,137.53 241.90,138.26 242.50,139.09 243.10,140.19 243.70,141.32 244.30,143.50 244.90,149.65 245.50,158.71 246.10,166.87 246.70,174.88 247.30,180.86 247.90,185.84 248.50,189.86 249.10,193.65 249.70,196.01 250.30,197.77 250.90,199.43 251.50,200.83 252.10,200.78 252.70,201.88 253.30,201.75 253.90,201.78 254.50,202.05 255.10,202.11 255.70,202.19 256.30,202.44 256.90,203.23 257.50,203.71 258.10,202.81 258.70,202.75 259.30,203.94 259.90,203.45 260.50,203.33 261.10,203.15 261.70,203.59 262.30,203.88 262.90,203.44 263.50,203.40 264.10,202.97 264.70,204.00 265.30,202.94 265.90,203.48 266.50,203.89 267.10,203.03 267.70,203.74 268.30,203.98 268.90,203.58 269.50,203.75 270.10,202.92 270.70,203.29 271.30,202.93 271.90,203.75 272.50,203.07 273.10,203.24 273.70,203.88 274.30,203.69 274.90,203.82 275.50,203.18 276.10,203.21 276.70,203.49 277.30,203.18 277.90,202.95 278.50,203.08 279.10,202.77 279.70,203.05 280.30,203.79 280.90,203.77 281.50,203.38 282.10,203.24 282.70,203.06 283.30,202.77 283.90,203.01 284.50,203.64 285.10,203.77 285.70,203.18 286.30,203.72 286.90,203.73 287.50,203.66 288.10,203.65 288.70,203.79 289.30,203.34 289.90,203.78 290.50,203.30 291.10,203.58 291.70,203.95 292.30,203.89 292.90,203.44 293.50,204.26 294.10,203.93 294.70,203.88 295.30,203.23 295.90,203.91 296.50,203.60 297.10,204.15 297.70,203.94 298.30,204.42 298.90,204.27 299.50,204.51 300.10,204.03 300.70,204.44 301.30,204.61 301.90,204.76 302.50,204.23 303.10,204.86 303.70,204.92 304.30,204.72 304.90,205.07 305.50,205.04 306.10,204.50 306.70,204.49 307.30,204.02 307.90,204.78 308.50,204.85 309.10,204.25 309.70,204.45 310.30,204.43 310.90,204.38 311.50,203.66 312.10,204.34 312.70,204.05 313.30,204.14 313.90,203.73 314.50,204.03 315.10,204.29 315.70,204.04 316.30,204.21 316.90,202.74 317.50,202.98 318.10,203.60 318.70,204.10 319.30,203.00 319.90,204.24 320.50,204.10 321.10,202.39 321.70,203.66 322.30,202.89 322.90,202.30 323.50,202.53 324.10,203.14 324.70,202.64 325.30,202.66 325.90,202.03 326.50,203.70 327.10,203.37 327.70,204.35 328.30,204.29 328.90,202.76 329.50,205.78 330.10,201.65 330.70,203.55 331.30,202.95 331.90,203.61 332.50,202.11 333.10,205.85 333.70,203.47 334.30,201.63 334.90,204.83" fill="none" stroke="#111" stroke-width="1.0" stroke-linejoin="round" stroke-linecap="round" />
<line x1="198.80" y1="111.00" x2="198.80" y2="211.00" stroke="#6e6e6e" stroke-width="1.0" />
<line x1="198.80" y1="211.00" x2="334.80" y2="211.00" stroke="#6e6e6e" stroke-width="1.0" />
<line x1="334.80" y1="111.00" x2="334.80" y2="211.00" stroke="#6e6e6e" stroke-width="1.0" />
<line x1="198.80" y1="111.00" x2="334.80" y2="111.00" stroke="#8a8a8a" stroke-width="1.6" />
<line x1="198.80" y1="211.00" x2="200.80" y2="211.00" stroke="#6e6e6e" stroke-width="0.7" />
<line x1="334.80" y1="211.00" x2="332.80" y2="211.00" stroke="#6e6e6e" stroke-width="0.7" />
<text x="196.80" y="213.10" font-size="6.2" fill="#333" stroke="#333" stroke-width="0.16" text-anchor="end" font-weight="normal" font-family="'Liberation Sans', Arial, sans-serif" font-style="normal" >0</text>
<line x1="198.80" y1="191.00" x2="200.80" y2="191.00" stroke="#6e6e6e" stroke-width="0.7" />
<line x1="334.80" y1="191.00" x2="332.80" y2="191.00" stroke="#6e6e6e" stroke-width="0.7" />
<text x="196.80" y="193.10" font-size="6.2" fill="#333" stroke="#333" stroke-width="0.16" text-anchor="end" font-weight="normal" font-family="'Liberation Sans', Arial, sans-serif" font-style="normal" >20</text>
<line x1="198.80" y1="171.00" x2="200.80" y2="171.00" stroke="#6e6e6e" stroke-width="0.7" />
<line x1="334.80" y1="171.00" x2="332.80" y2="171.00" stroke="#6e6e6e" stroke-width="0.7" />
<text x="196.80" y="173.10" font-size="6.2" fill="#333" stroke="#333" stroke-width="0.16" text-anchor="end" font-weight="normal" font-family="'Liberation Sans', Arial, sans-serif" font-style="normal" >40</text>
<line x1="198.80" y1="151.00" x2="200.80" y2="151.00" stroke="#6e6e6e" stroke-width="0.7" />
<line x1="334.80" y1="151.00" x2="332.80" y2="151.00" stroke="#6e6e6e" stroke-width="0.7" />
<text x="196.80" y="153.10" font-size="6.2" fill="#333" stroke="#333" stroke-width="0.16" text-anchor="end" font-weight="normal" font-family="'Liberation Sans', Arial, sans-serif" font-style="normal" >60</text>
<line x1="198.80" y1="131.00" x2="200.80" y2="131.00" stroke="#6e6e6e" stroke-width="0.7" />
<line x1="334.80" y1="131.00" x2="332.80" y2="131.00" stroke="#6e6e6e" stroke-width="0.7" />
<text x="196.80" y="133.10" font-size="6.2" fill="#333" stroke="#333" stroke-width="0.16" text-anchor="end" font-weight="normal" font-family="'Liberation Sans', Arial, sans-serif" font-style="normal" >80</text>
<line x1="198.80" y1="111.00" x2="200.80" y2="111.00" stroke="#6e6e6e" stroke-width="0.7" />
<line x1="334.80" y1="111.00" x2="332.80" y2="111.00" stroke="#6e6e6e" stroke-width="0.7" />
<text x="196.80" y="113.10" font-size="6.2" fill="#333" stroke="#333" stroke-width="0.16" text-anchor="end" font-weight="normal" font-family="'Liberation Sans', Arial, sans-serif" font-style="normal" >100</text>
<line x1="198.80" y1="201.00" x2="200.00" y2="201.00" stroke="#6e6e6e" stroke-width="0.6" />
<line x1="198.80" y1="181.00" x2="200.00" y2="181.00" stroke="#6e6e6e" stroke-width="0.6" />
<line x1="198.80" y1="161.00" x2="200.00" y2="161.00" stroke="#6e6e6e" stroke-width="0.6" />
<line x1="198.80" y1="141.00" x2="200.00" y2="141.00" stroke="#6e6e6e" stroke-width="0.6" />
<line x1="198.80" y1="121.00" x2="200.00" y2="121.00" stroke="#6e6e6e" stroke-width="0.6" />
<line x1="213.91" y1="211.00" x2="213.91" y2="209.00" stroke="#6e6e6e" stroke-width="0.7" />
<text x="213.91" y="220.20" font-size="6.2" fill="#333" stroke="#333" stroke-width="0.16" text-anchor="middle" font-weight="normal" font-family="'Liberation Sans', Arial, sans-serif" font-style="normal" >500</text>
<line x1="244.13" y1="211.00" x2="244.13" y2="209.00" stroke="#6e6e6e" stroke-width="0.7" />
<text x="244.13" y="220.20" font-size="6.2" fill="#333" stroke="#333" stroke-width="0.16" text-anchor="middle" font-weight="normal" font-family="'Liberation Sans', Arial, sans-serif" font-style="normal" >1000</text>
<line x1="274.36" y1="211.00" x2="274.36" y2="209.00" stroke="#6e6e6e" stroke-width="0.7" />
<text x="274.36" y="220.20" font-size="6.2" fill="#333" stroke="#333" stroke-width="0.16" text-anchor="middle" font-weight="normal" font-family="'Liberation Sans', Arial, sans-serif" font-style="normal" >1500</text>
<line x1="304.58" y1="211.00" x2="304.58" y2="209.00" stroke="#6e6e6e" stroke-width="0.7" />
<text x="304.58" y="220.20" font-size="6.2" fill="#333" stroke="#333" stroke-width="0.16" text-anchor="middle" font-weight="normal" font-family="'Liberation Sans', Arial, sans-serif" font-style="normal" >2000</text>
<line x1="334.80" y1="211.00" x2="334.80" y2="209.00" stroke="#6e6e6e" stroke-width="0.7" />
<text x="334.80" y="220.20" font-size="6.2" fill="#333" stroke="#333" stroke-width="0.16" text-anchor="middle" font-weight="normal" font-family="'Liberation Sans', Arial, sans-serif" font-style="normal" >2500</text>
<line x1="198.80" y1="211.00" x2="198.80" y2="209.80" stroke="#6e6e6e" stroke-width="0.6" />
<line x1="229.02" y1="211.00" x2="229.02" y2="209.80" stroke="#6e6e6e" stroke-width="0.6" />
<line x1="259.24" y1="211.00" x2="259.24" y2="209.80" stroke="#6e6e6e" stroke-width="0.6" />
<line x1="289.47" y1="211.00" x2="289.47" y2="209.80" stroke="#6e6e6e" stroke-width="0.6" />
<line x1="319.69" y1="211.00" x2="319.69" y2="209.80" stroke="#6e6e6e" stroke-width="0.6" />
<text x="270.20" y="230.10" font-size="8.1" fill="#222" stroke="#222" stroke-width="0.16" text-anchor="middle" font-weight="normal" font-family="'Liberation Sans', Arial, sans-serif" font-style="normal" textLength="61.3" lengthAdjust="spacingAndGlyphs" >Wavelength (nm)</text>
<text transform="translate(183.2,159.6) rotate(-90)" font-size="8" font-family="'Liberation Sans', Arial, sans-serif" fill="#222" text-anchor="middle" textLength="60.3" lengthAdjust="spacingAndGlyphs">Absorptance (%)</text>
<text transform="translate(174.4,163.6) rotate(-90)" font-size="7.8" font-family="'Liberation Sans', Arial, sans-serif" fill="#222" text-anchor="middle" textLength="38.7" lengthAdjust="spacingAndGlyphs">Current (A)</text>
<text x="203.20" y="121.60" font-size="5.2" fill="#223" stroke="#223" stroke-width="0.3" text-anchor="start" font-weight="bold" font-family="'Liberation Sans', Arial, sans-serif" font-style="normal" >(e)</text>
<line x1="291.50" y1="113.80" x2="303.00" y2="113.80" stroke="#222" stroke-width="1.4" />
<line x1="291.50" y1="120.60" x2="303.00" y2="120.60" stroke="#d05060" stroke-width="1.4" />
<line x1="291.50" y1="126.70" x2="294.80" y2="126.70" stroke="#c04060" stroke-width="1.3" />
<line x1="296.40" y1="126.70" x2="297.60" y2="126.70" stroke="#c04060" stroke-width="1.3" />
<line x1="291.50" y1="132.70" x2="303.00" y2="132.70" stroke="#6068a8" stroke-width="1.4" />
<line x1="291.50" y1="139.00" x2="294.80" y2="139.00" stroke="#5060a0" stroke-width="1.3" />
<line x1="296.40" y1="139.00" x2="297.60" y2="139.00" stroke="#5060a0" stroke-width="1.3" />
<line x1="291.50" y1="144.70" x2="303.00" y2="144.70" stroke="#60a060" stroke-width="1.4" />
<line x1="291.50" y1="150.60" x2="294.80" y2="150.60" stroke="#50904a" stroke-width="1.3" />
<line x1="296.40" y1="150.60" x2="297.60" y2="150.60" stroke="#50904a" stroke-width="1.3" />
<line x1="291.50" y1="156.60" x2="303.00" y2="156.60" stroke="#d8b080" stroke-width="1.4" />
<line x1="291.50" y1="162.50" x2="294.80" y2="162.50" stroke="#d0a070" stroke-width="1.3" />
<line x1="296.40" y1="162.50" x2="297.60" y2="162.50" stroke="#d0a070" stroke-width="1.3" />
<text x="307.60" y="115.60" font-size="4.9" fill="#222" stroke="#222" stroke-width="0.16" text-anchor="start" font-weight="normal" font-family="'Liberation Sans', Arial, sans-serif" font-style="normal" textLength="26.3" lengthAdjust="spacingAndGlyphs" >Si Substrate</text>
<text x="308.6" y="125.60" font-size="4.9" font-family="'Liberation Sans', Arial, sans-serif" fill="#222">0.05 J/cm<tspan font-size="3.2" dy="-1.8">2</tspan></text>
<text x="308.6" y="137.50" font-size="4.9" font-family="'Liberation Sans', Arial, sans-serif" fill="#222">0.08 J/cm<tspan font-size="3.2" dy="-1.8">2</tspan></text>
<text x="308.6" y="149.90" font-size="4.9" font-family="'Liberation Sans', Arial, sans-serif" fill="#222">0.23 J/cm<tspan font-size="3.2" dy="-1.8">2</tspan></text>
<text x="308.6" y="161.40" font-size="4.9" font-family="'Liberation Sans', Arial, sans-serif" fill="#222">0.30 J/cm<tspan font-size="3.2" dy="-1.8">2</tspan></text>
<text x="171.00" y="107.60" font-size="13.8" fill="#111" stroke="#111" stroke-width="0.3" text-anchor="start" font-weight="bold" font-family="'Liberation Serif', 'Times New Roman', serif" font-style="normal" >(d)</text>
<polyline points="27.50,261.30 28.12,261.68 28.75,262.05 29.38,262.43 30.00,262.80 30.62,263.18 31.25,263.55 31.88,263.93 32.50,264.30 33.12,264.68 33.75,265.05 34.38,265.43 35.00,265.80 35.62,266.18 36.25,266.55 36.88,266.93 37.50,267.30 38.12,267.68 38.75,268.05 39.38,268.43 40.00,268.80 40.62,269.16 41.25,269.53 41.88,269.89 42.50,270.25 43.12,270.61 43.75,270.98 44.38,271.34 45.00,271.70 45.62,272.06 46.25,272.43 46.88,272.79 47.50,273.15 48.12,273.51 48.75,273.88 49.38,274.24 50.00,274.60 50.62,274.93 51.25,275.25 51.88,275.58 52.50,275.90 53.12,276.23 53.75,276.55 54.38,276.88 55.00,277.20 55.62,277.53 56.25,277.85 56.88,278.18 57.50,278.50 58.12,278.82 58.75,279.15 59.38,279.48 60.00,279.80 60.62,280.22 61.23,280.63 61.85,281.05 62.46,281.46 63.08,281.88 63.69,282.29 64.31,282.71 64.92,283.12 65.54,283.54 66.15,283.95 66.77,284.37 67.38,284.78 68.00,285.20 68.61,285.60 69.22,286.00 69.83,286.40 70.44,286.80 71.06,287.20 71.67,287.60 72.28,288.00 72.89,288.40 73.50,288.80 74.50,291.50 75.50,293.20 76.10,293.44 76.70,293.68 77.30,293.92 77.90,294.16 78.50,294.40 79.10,294.64 79.70,294.88 80.30,295.12 80.90,295.36 81.50,295.60 82.50,297.50 83.60,298.90 84.20,298.97 84.80,299.04 85.40,299.11 86.00,299.18 86.60,299.25 87.20,299.32 87.80,299.39 88.40,299.46 89.00,299.53 89.60,299.60 90.20,299.98 90.80,300.36 91.40,300.73 92.00,301.11 92.60,301.49 93.20,301.87 93.80,302.24 94.40,302.62 95.00,303.00 95.61,303.30 96.22,303.60 96.83,303.90 97.44,304.20 98.05,304.50 98.65,304.80 99.26,305.10 99.87,305.40 100.48,305.70 101.09,306.00 101.70,306.30 102.50,308.50 103.20,309.30 103.83,309.44 104.47,309.58 105.10,309.73 105.73,309.87 106.37,310.01 107.00,310.15 107.63,310.29 108.27,310.43 108.90,310.57 109.53,310.72 110.17,310.86 110.80,311.00 111.40,311.42 112.00,311.84 112.60,312.26 113.20,312.68 113.80,313.10 114.40,313.38 115.00,313.67 115.60,313.95 116.20,314.23 116.80,314.52 117.40,314.80 118.00,315.08 118.60,315.37 119.20,315.65 119.80,315.93 120.40,316.22 121.00,316.50 121.80,318.60 122.43,318.90 123.06,319.20 123.69,319.50 124.32,319.80 124.95,320.10 125.58,320.40 126.22,320.70 126.85,321.00 127.48,321.30 128.11,321.60 128.74,321.90 129.37,322.20 130.00,322.50 130.64,322.83 131.28,323.16 131.92,323.49 132.55,323.82 133.19,324.15 133.83,324.48 134.47,324.82 135.11,325.15 135.75,325.48 136.38,325.81 137.02,326.14 137.66,326.47 138.30,326.80 139.50,328.50 140.11,328.70 140.72,328.90 141.33,329.10 141.94,329.30 142.55,329.50 143.15,329.70 143.76,329.90 144.37,330.10 144.98,330.30 145.59,330.50 146.20,330.70 146.81,330.99 147.42,331.28 148.03,331.57 148.64,331.86 149.26,332.14 149.87,332.43 150.48,332.72 151.09,333.01 151.70,333.30 152.31,333.59 152.92,333.88 153.53,334.17 154.14,334.46 154.76,334.74 155.37,335.03 155.98,335.32 156.59,335.61 157.20,335.90 157.83,336.40 158.46,336.90 159.09,337.40 159.72,337.90 160.35,338.40 160.98,338.90 161.61,339.40 162.24,339.90 162.87,340.40 163.50,340.90 164.14,341.54 164.78,342.18 165.42,342.82 166.06,343.46 166.70,344.10 167.50,345.30 168.30,346.50 169.50,349.10" fill="none" stroke="#3a46a0" stroke-width="3.0" stroke-linejoin="round" stroke-linecap="round" />
<polyline points="27.50,261.30 28.12,261.68 28.75,262.05 29.38,262.43 30.00,262.80 30.62,263.18 31.25,263.55 31.88,263.93 32.50,264.30 33.12,264.68 33.75,265.05 34.38,265.43 35.00,265.80 35.62,266.18 36.25,266.55 36.88,266.93 37.50,267.30 38.12,267.68 38.75,268.05 39.38,268.43 40.00,268.80 40.62,269.16 41.25,269.53 41.88,269.89 42.50,270.25 43.12,270.61 43.75,270.98 44.38,271.34 45.00,271.70 45.62,272.06 46.25,272.43 46.88,272.79 47.50,273.15 48.12,273.51 48.75,273.88 49.38,274.24 50.00,274.60 50.62,274.93 51.25,275.25 51.88,275.58 52.50,275.90 53.12,276.23 53.75,276.55 54.38,276.88 55.00,277.20 55.62,277.53 56.25,277.85 56.88,278.18 57.50,278.50 58.12,278.82 58.75,279.15 59.38,279.48 60.00,279.80 60.62,280.22 61.23,280.63 61.85,281.05 62.46,281.46 63.08,281.88 63.69,282.29 64.31,282.71 64.92,283.12 65.54,283.54 66.15,283.95 66.77,284.37 67.38,284.78 68.00,285.20 68.61,285.60 69.22,286.00 69.83,286.40 70.44,286.80 71.06,287.20 71.67,287.60 72.28,288.00 72.89,288.40 73.50,288.80 74.50,291.50 75.50,293.20 76.10,293.44 76.70,293.68 77.30,293.92 77.90,294.16 78.50,294.40 79.10,294.64 79.70,294.88 80.30,295.12 80.90,295.36 81.50,295.60 82.50,297.50 83.60,298.90 84.20,298.97 84.80,299.04 85.40,299.11 86.00,299.18 86.60,299.25 87.20,299.32 87.80,299.39 88.40,299.46 89.00,299.53 89.60,299.60 90.20,299.98 90.80,300.36 91.40,300.73 92.00,301.11 92.60,301.49 93.20,301.87 93.80,302.24 94.40,302.62 95.00,303.00 95.61,303.30 96.22,303.60 96.83,303.90 97.44,304.20 98.05,304.50 98.65,304.80 99.26,305.10 99.87,305.40 100.48,305.70 101.09,306.00 101.70,306.30 102.50,308.50 103.20,309.30 103.83,309.44 104.47,309.58 105.10,309.73 105.73,309.87 106.37,310.01 107.00,310.15 107.63,310.29 108.27,310.43 108.90,310.57 109.53,310.72 110.17,310.86 110.80,311.00 111.40,311.42 112.00,311.84 112.60,312.26 113.20,312.68 113.80,313.10 114.40,313.38 115.00,313.67 115.60,313.95 116.20,314.23 116.80,314.52 117.40,314.80 118.00,315.08 118.60,315.37 119.20,315.65 119.80,315.93 120.40,316.22 121.00,316.50 121.80,318.60 122.43,318.90 123.06,319.20 123.69,319.50 124.32,319.80 124.95,320.10 125.58,320.40 126.22,320.70 126.85,321.00 127.48,321.30 128.11,321.60 128.74,321.90 129.37,322.20 130.00,322.50 130.64,322.83 131.28,323.16 131.92,323.49 132.55,323.82 133.19,324.15 133.83,324.48 134.47,324.82 135.11,325.15 135.75,325.48 136.38,325.81 137.02,326.14 137.66,326.47 138.30,326.80 139.50,328.50 140.11,328.70 140.72,328.90 141.33,329.10 141.94,329.30 142.55,329.50 143.15,329.70 143.76,329.90 144.37,330.10 144.98,330.30 145.59,330.50 146.20,330.70 146.81,330.99 147.42,331.28 148.03,331.57 148.64,331.86 149.26,332.14 149.87,332.43 150.48,332.72 151.09,333.01 151.70,333.30 152.31,333.59 152.92,333.88 153.53,334.17 154.14,334.46 154.76,334.74 155.37,335.03 155.98,335.32 156.59,335.61 157.20,335.90 157.83,336.40 158.46,336.90 159.09,337.40 159.72,337.90 160.35,338.40 160.98,338.90 161.61,339.40 162.24,339.90 162.87,340.40 163.50,340.90 164.14,341.54 164.78,342.18 165.42,342.82 166.06,343.46 166.70,344.10 167.50,345.30 168.30,346.50 169.50,349.10" fill="none" stroke="#8088c8" stroke-width="1.2" stroke-linejoin="round" stroke-linecap="round" />
<g fill="none" stroke="#3a46a0" stroke-width="0.45" opacity="0.8"><circle cx="27.50" cy="261.30" r="1.1"/><circle cx="30.00" cy="262.80" r="1.1"/><circle cx="32.50" cy="264.30" r="1.1"/><circle cx="35.00" cy="265.80" r="1.1"/><circle cx="37.50" cy="267.30" r="1.1"/><circle cx="40.00" cy="268.80" r="1.1"/><circle cx="42.50" cy="270.25" r="1.1"/><circle cx="45.00" cy="271.70" r="1.1"/><circle cx="47.50" cy="273.15" r="1.1"/><circle cx="50.00" cy="274.60" r="1.1"/><circle cx="52.50" cy="275.90" r="1.1"/><circle cx="55.00" cy="277.20" r="1.1"/><circle cx="57.50" cy="278.50" r="1.1"/><circle cx="60.00" cy="279.80" r="1.1"/><circle cx="62.46" cy="281.46" r="1.1"/><circle cx="64.92" cy="283.12" r="1.1"/><circle cx="67.38" cy="284.78" r="1.1"/><circle cx="69.83" cy="286.40" r="1.1"/><circle cx="72.28" cy="288.00" r="1.1"/><circle cx="75.50" cy="293.20" r="1.1"/><circle cx="77.90" cy="294.16" r="1.1"/><circle cx="80.30" cy="295.12" r="1.1"/><circle cx="83.60" cy="298.90" r="1.1"/><circle cx="86.00" cy="299.18" r="1.1"/><circle cx="88.40" cy="299.46" r="1.1"/><circle cx="90.80" cy="300.36" r="1.1"/><circle cx="93.20" cy="301.87" r="1.1"/><circle cx="95.61" cy="303.30" r="1.1"/><circle cx="98.05" cy="304.50" r="1.1"/><circle cx="100.48" cy="305.70" r="1.1"/><circle cx="103.20" cy="309.30" r="1.1"/><circle cx="105.73" cy="309.87" r="1.1"/><circle cx="108.27" cy="310.43" r="1.1"/><circle cx="110.80" cy="311.00" r="1.1"/><circle cx="113.20" cy="312.68" r="1.1"/><circle cx="115.60" cy="313.95" r="1.1"/><circle cx="118.00" cy="315.08" r="1.1"/><circle cx="120.40" cy="316.22" r="1.1"/><circle cx="123.06" cy="319.20" r="1.1"/><circle cx="125.58" cy="320.40" r="1.1"/><circle cx="128.11" cy="321.60" r="1.1"/><circle cx="130.64" cy="322.83" r="1.1"/><circle cx="133.19" cy="324.15" r="1.1"/><circle cx="135.75" cy="325.48" r="1.1"/><circle cx="138.30" cy="326.80" r="1.1"/><circle cx="141.33" cy="329.10" r="1.1"/><circle cx="143.76" cy="329.90" r="1.1"/><circle cx="146.20" cy="330.70" r="1.1"/><circle cx="148.64" cy="331.86" r="1.1"/><circle cx="151.09" cy="333.01" r="1.1"/><circle cx="153.53" cy="334.17" r="1.1"/><circle cx="155.98" cy="335.32" r="1.1"/><circle cx="158.46" cy="336.90" r="1.1"/><circle cx="160.98" cy="338.90" r="1.1"/><circle cx="163.50" cy="340.90" r="1.1"/><circle cx="166.06" cy="343.46" r="1.1"/><circle cx="169.50" cy="349.10" r="1.1"/></g>
<circle cx="169.5" cy="349.2" r="1.3" fill="#3a46a0"/>
<circle cx="168.6" cy="346.6" r="1.2" fill="#3a46a0"/>
<rect x="27.00" y="250.00" width="143.70" height="106.60" fill="none" stroke="#6e6e6e" stroke-width="1.0" />
<line x1="27.00" y1="356.80" x2="29.00" y2="356.80" stroke="#6e6e6e" stroke-width="0.7" />
<text x="23.60" y="358.90" font-size="6.2" fill="#333" stroke="#333" stroke-width="0.16" text-anchor="end" font-weight="normal" font-family="'Liberation Sans', Arial, sans-serif" font-style="normal" >0</text>
<line x1="27.00" y1="344.85" x2="28.20" y2="344.85" stroke="#6e6e6e" stroke-width="0.6" />
<line x1="27.00" y1="332.90" x2="29.00" y2="332.90" stroke="#6e6e6e" stroke-width="0.7" />
<text x="23.60" y="335.00" font-size="6.2" fill="#333" stroke="#333" stroke-width="0.16" text-anchor="end" font-weight="normal" font-family="'Liberation Sans', Arial, sans-serif" font-style="normal" >1</text>
<line x1="27.00" y1="320.95" x2="28.20" y2="320.95" stroke="#6e6e6e" stroke-width="0.6" />
<line x1="27.00" y1="309.00" x2="29.00" y2="309.00" stroke="#6e6e6e" stroke-width="0.7" />
<text x="23.60" y="311.10" font-size="6.2" fill="#333" stroke="#333" stroke-width="0.16" text-anchor="end" font-weight="normal" font-family="'Liberation Sans', Arial, sans-serif" font-style="normal" >2</text>
<line x1="27.00" y1="297.05" x2="28.20" y2="297.05" stroke="#6e6e6e" stroke-width="0.6" />
<line x1="27.00" y1="285.10" x2="29.00" y2="285.10" stroke="#6e6e6e" stroke-width="0.7" />
<text x="23.60" y="287.20" font-size="6.2" fill="#333" stroke="#333" stroke-width="0.16" text-anchor="end" font-weight="normal" font-family="'Liberation Sans', Arial, sans-serif" font-style="normal" >3</text>
<line x1="27.00" y1="273.15" x2="28.20" y2="273.15" stroke="#6e6e6e" stroke-width="0.6" />
<line x1="27.00" y1="261.20" x2="29.00" y2="261.20" stroke="#6e6e6e" stroke-width="0.7" />
<text x="23.60" y="263.30" font-size="6.2" fill="#333" stroke="#333" stroke-width="0.16" text-anchor="end" font-weight="normal" font-family="'Liberation Sans', Arial, sans-serif" font-style="normal" >4</text>
<line x1="27.00" y1="249.25" x2="28.20" y2="249.25" stroke="#6e6e6e" stroke-width="0.6" />
<line x1="27.00" y1="356.60" x2="27.00" y2="354.60" stroke="#6e6e6e" stroke-width="0.7" />
<text x="27.00" y="364.20" font-size="6.2" fill="#333" stroke="#333" stroke-width="0.16" text-anchor="middle" font-weight="normal" font-family="'Liberation Sans', Arial, sans-serif" font-style="normal" >-10</text>
<line x1="41.40" y1="356.60" x2="41.40" y2="355.40" stroke="#6e6e6e" stroke-width="0.6" />
<line x1="55.80" y1="356.60" x2="55.80" y2="354.60" stroke="#6e6e6e" stroke-width="0.7" />
<text x="55.80" y="364.20" font-size="6.2" fill="#333" stroke="#333" stroke-width="0.16" text-anchor="middle" font-weight="normal" font-family="'Liberation Sans', Arial, sans-serif" font-style="normal" >-8</text>
<line x1="70.20" y1="356.60" x2="70.20" y2="355.40" stroke="#6e6e6e" stroke-width="0.6" />
<line x1="84.60" y1="356.60" x2="84.60" y2="354.60" stroke="#6e6e6e" stroke-width="0.7" />
<text x="84.60" y="364.20" font-size="6.2" fill="#333" stroke="#333" stroke-width="0.16" text-anchor="middle" font-weight="normal" font-family="'Liberation Sans', Arial, sans-serif" font-style="normal" >-6</text>
<line x1="99.00" y1="356.60" x2="99.00" y2="355.40" stroke="#6e6e6e" stroke-width="0.6" />
<line x1="113.40" y1="356.60" x2="113.40" y2="354.60" stroke="#6e6e6e" stroke-width="0.7" />
<text x="113.40" y="364.20" font-size="6.2" fill="#333" stroke="#333" stroke-width="0.16" text-anchor="middle" font-weight="normal" font-family="'Liberation Sans', Arial, sans-serif" font-style="normal" >-4</text>
<line x1="127.80" y1="356.60" x2="127.80" y2="355.40" stroke="#6e6e6e" stroke-width="0.6" />
<line x1="142.20" y1="356.60" x2="142.20" y2="354.60" stroke="#6e6e6e" stroke-width="0.7" />
<text x="142.20" y="364.20" font-size="6.2" fill="#333" stroke="#333" stroke-width="0.16" text-anchor="middle" font-weight="normal" font-family="'Liberation Sans', Arial, sans-serif" font-style="normal" >-2</text>
<line x1="156.60" y1="356.60" x2="156.60" y2="355.40" stroke="#6e6e6e" stroke-width="0.6" />
<line x1="171.00" y1="356.60" x2="171.00" y2="354.60" stroke="#6e6e6e" stroke-width="0.7" />
<text x="171.00" y="364.20" font-size="6.2" fill="#333" stroke="#333" stroke-width="0.16" text-anchor="middle" font-weight="normal" font-family="'Liberation Sans', Arial, sans-serif" font-style="normal" >0</text>
<text x="97.20" y="374.30" font-size="8.6" fill="#222" stroke="#222" stroke-width="0.16" text-anchor="middle" font-weight="normal" font-family="'Liberation Sans', Arial, sans-serif" font-style="normal" textLength="42" lengthAdjust="spacingAndGlyphs" >Voltage (V)</text>
<text transform="translate(14.6,304.2) rotate(-90)" font-size="8" font-family="'Liberation Sans', Arial, sans-serif" fill="#222" text-anchor="middle" textLength="83.8" lengthAdjust="spacingAndGlyphs">Ransponsivity (mA/W)</text>
<text x="7.40" y="243.90" font-size="13.8" fill="#111" stroke="#111" stroke-width="0.3" text-anchor="start" font-weight="bold" font-family="'Liberation Serif', 'Times New Roman', serif" font-style="normal" >(e)</text>
<polyline points="198.90,262.50 200.00,262.91 201.43,263.43 203.13,264.05 205.04,264.75 207.08,265.50 209.20,266.28 211.32,267.08 213.39,267.86 215.34,268.61 217.10,269.30 218.70,269.95 220.21,270.58 221.65,271.19 223.06,271.80 224.44,272.41 225.83,273.02 227.24,273.65 228.69,274.30 230.20,274.98 231.80,275.70 233.48,276.44 235.23,277.21 237.02,277.99 238.86,278.80 240.72,279.62 242.60,280.46 244.49,281.32 246.38,282.19 248.25,283.09 250.10,284.00 251.99,284.97 253.96,286.01 255.99,287.11 258.02,288.23 260.04,289.35 261.99,290.45 263.85,291.50 265.58,292.47 267.14,293.35 268.50,294.10 269.60,294.69 270.45,295.14 271.11,295.47 271.63,295.72 272.06,295.93 272.47,296.13 272.92,296.36 273.45,296.66 274.12,297.06 275.00,297.60 276.04,298.25 277.16,298.97 278.36,299.75 279.62,300.58 280.96,301.46 282.35,302.39 283.80,303.37 285.29,304.38 286.83,305.42 288.40,306.50 290.04,307.63 291.76,308.84 293.56,310.10 295.40,311.42 297.29,312.76 299.21,314.11 301.13,315.47 303.05,316.81 304.94,318.13 306.80,319.40 308.67,320.65 310.58,321.92 312.52,323.19 314.47,324.45 316.41,325.69 318.30,326.92 320.14,328.11 321.90,329.26 323.56,330.36 325.10,331.40 326.52,332.39 327.86,333.33 329.11,334.22 330.28,335.08 331.39,335.91 332.44,336.70 333.44,337.46 334.40,338.19 335.31,338.91 336.20,339.60 337.05,340.27 337.84,340.90 338.59,341.49 339.29,342.06 339.94,342.61 340.55,343.13 341.12,343.64 341.65,344.13 342.14,344.62 342.60,345.10 343.01,345.57 343.36,346.03 343.67,346.46 343.93,346.89 344.16,347.30 344.35,347.70 344.53,348.09 344.69,348.47 344.85,348.84 345.00,349.20 345.14,349.56 345.26,349.93 345.36,350.30 345.44,350.66 345.50,351.01 345.55,351.33 345.60,351.63 345.63,351.89 345.67,352.12 345.70,352.30" fill="none" stroke="#3a46a0" stroke-width="3.2" stroke-linejoin="round" stroke-linecap="round" />
<polyline points="198.90,262.50 200.00,262.91 201.43,263.43 203.13,264.05 205.04,264.75 207.08,265.50 209.20,266.28 211.32,267.08 213.39,267.86 215.34,268.61 217.10,269.30 218.70,269.95 220.21,270.58 221.65,271.19 223.06,271.80 224.44,272.41 225.83,273.02 227.24,273.65 228.69,274.30 230.20,274.98 231.80,275.70 233.48,276.44 235.23,277.21 237.02,277.99 238.86,278.80 240.72,279.62 242.60,280.46 244.49,281.32 246.38,282.19 248.25,283.09 250.10,284.00 251.99,284.97 253.96,286.01 255.99,287.11 258.02,288.23 260.04,289.35 261.99,290.45 263.85,291.50 265.58,292.47 267.14,293.35 268.50,294.10 269.60,294.69 270.45,295.14 271.11,295.47 271.63,295.72 272.06,295.93 272.47,296.13 272.92,296.36 273.45,296.66 274.12,297.06 275.00,297.60 276.04,298.25 277.16,298.97 278.36,299.75 279.62,300.58 280.96,301.46 282.35,302.39 283.80,303.37 285.29,304.38 286.83,305.42 288.40,306.50 290.04,307.63 291.76,308.84 293.56,310.10 295.40,311.42 297.29,312.76 299.21,314.11 301.13,315.47 303.05,316.81 304.94,318.13 306.80,319.40 308.67,320.65 310.58,321.92 312.52,323.19 314.47,324.45 316.41,325.69 318.30,326.92 320.14,328.11 321.90,329.26 323.56,330.36 325.10,331.40 326.52,332.39 327.86,333.33 329.11,334.22 330.28,335.08 331.39,335.91 332.44,336.70 333.44,337.46 334.40,338.19 335.31,338.91 336.20,339.60 337.05,340.27 337.84,340.90 338.59,341.49 339.29,342.06 339.94,342.61 340.55,343.13 341.12,343.64 341.65,344.13 342.14,344.62 342.60,345.10 343.01,345.57 343.36,346.03 343.67,346.46 343.93,346.89 344.16,347.30 344.35,347.70 344.53,348.09 344.69,348.47 344.85,348.84 345.00,349.20 345.14,349.56 345.26,349.93 345.36,350.30 345.44,350.66 345.50,351.01 345.55,351.33 345.60,351.63 345.63,351.89 345.67,352.12 345.70,352.30" fill="none" stroke="#7880c4" stroke-width="1.2" stroke-linejoin="round" stroke-linecap="round" />
<rect x="198.40" y="250.20" width="147.60" height="109.50" fill="none" stroke="#6e6e6e" stroke-width="1.0" />
<line x1="198.40" y1="351.20" x2="200.40" y2="351.20" stroke="#6e6e6e" stroke-width="0.7" />
<text x="195.60" y="353.30" font-size="6.2" fill="#333" stroke="#333" stroke-width="0.16" text-anchor="end" font-weight="normal" font-family="'Liberation Sans', Arial, sans-serif" font-style="normal" >0</text>
<line x1="198.40" y1="342.78" x2="199.60" y2="342.78" stroke="#6e6e6e" stroke-width="0.6" />
<line x1="198.40" y1="334.37" x2="200.40" y2="334.37" stroke="#6e6e6e" stroke-width="0.7" />
<text x="195.60" y="336.47" font-size="6.2" fill="#333" stroke="#333" stroke-width="0.16" text-anchor="end" font-weight="normal" font-family="'Liberation Sans', Arial, sans-serif" font-style="normal" >1</text>
<line x1="198.40" y1="325.95" x2="199.60" y2="325.95" stroke="#6e6e6e" stroke-width="0.6" />
<line x1="198.40" y1="317.54" x2="200.40" y2="317.54" stroke="#6e6e6e" stroke-width="0.7" />
<text x="195.60" y="319.64" font-size="6.2" fill="#333" stroke="#333" stroke-width="0.16" text-anchor="end" font-weight="normal" font-family="'Liberation Sans', Arial, sans-serif" font-style="normal" >2</text>
<line x1="198.40" y1="309.12" x2="199.60" y2="309.12" stroke="#6e6e6e" stroke-width="0.6" />
<line x1="198.40" y1="300.71" x2="200.40" y2="300.71" stroke="#6e6e6e" stroke-width="0.7" />
<text x="195.60" y="302.81" font-size="6.2" fill="#333" stroke="#333" stroke-width="0.16" text-anchor="end" font-weight="normal" font-family="'Liberation Sans', Arial, sans-serif" font-style="normal" >3</text>
<line x1="198.40" y1="292.30" x2="199.60" y2="292.30" stroke="#6e6e6e" stroke-width="0.6" />
<line x1="198.40" y1="283.88" x2="200.40" y2="283.88" stroke="#6e6e6e" stroke-width="0.7" />
<text x="195.60" y="285.98" font-size="6.2" fill="#333" stroke="#333" stroke-width="0.16" text-anchor="end" font-weight="normal" font-family="'Liberation Sans', Arial, sans-serif" font-style="normal" >4</text>
<line x1="198.40" y1="275.47" x2="199.60" y2="275.47" stroke="#6e6e6e" stroke-width="0.6" />
<line x1="198.40" y1="267.05" x2="200.40" y2="267.05" stroke="#6e6e6e" stroke-width="0.7" />
<text x="195.60" y="269.15" font-size="6.2" fill="#333" stroke="#333" stroke-width="0.16" text-anchor="end" font-weight="normal" font-family="'Liberation Sans', Arial, sans-serif" font-style="normal" >5</text>
<line x1="198.40" y1="258.63" x2="199.60" y2="258.63" stroke="#6e6e6e" stroke-width="0.6" />
<line x1="198.40" y1="250.22" x2="200.40" y2="250.22" stroke="#6e6e6e" stroke-width="0.7" />
<text x="195.60" y="252.32" font-size="6.2" fill="#333" stroke="#333" stroke-width="0.16" text-anchor="end" font-weight="normal" font-family="'Liberation Sans', Arial, sans-serif" font-style="normal" >6</text>
<line x1="198.40" y1="359.62" x2="199.60" y2="359.62" stroke="#6e6e6e" stroke-width="0.6" />
<line x1="198.40" y1="359.70" x2="198.40" y2="357.70" stroke="#6e6e6e" stroke-width="0.7" />
<text x="198.40" y="368.20" font-size="6.2" fill="#333" stroke="#333" stroke-width="0.16" text-anchor="middle" font-weight="normal" font-family="'Liberation Sans', Arial, sans-serif" font-style="normal" >-10</text>
<line x1="213.20" y1="359.70" x2="213.20" y2="358.50" stroke="#6e6e6e" stroke-width="0.6" />
<line x1="228.00" y1="359.70" x2="228.00" y2="357.70" stroke="#6e6e6e" stroke-width="0.7" />
<text x="228.00" y="368.20" font-size="6.2" fill="#333" stroke="#333" stroke-width="0.16" text-anchor="middle" font-weight="normal" font-family="'Liberation Sans', Arial, sans-serif" font-style="normal" >-8</text>
<line x1="242.80" y1="359.70" x2="242.80" y2="358.50" stroke="#6e6e6e" stroke-width="0.6" />
<line x1="257.60" y1="359.70" x2="257.60" y2="357.70" stroke="#6e6e6e" stroke-width="0.7" />
<text x="257.60" y="368.20" font-size="6.2" fill="#333" stroke="#333" stroke-width="0.16" text-anchor="middle" font-weight="normal" font-family="'Liberation Sans', Arial, sans-serif" font-style="normal" >-6</text>
<line x1="272.40" y1="359.70" x2="272.40" y2="358.50" stroke="#6e6e6e" stroke-width="0.6" />
<line x1="287.20" y1="359.70" x2="287.20" y2="357.70" stroke="#6e6e6e" stroke-width="0.7" />
<text x="287.20" y="368.20" font-size="6.2" fill="#333" stroke="#333" stroke-width="0.16" text-anchor="middle" font-weight="normal" font-family="'Liberation Sans', Arial, sans-serif" font-style="normal" >-4</text>
<line x1="302.00" y1="359.70" x2="302.00" y2="358.50" stroke="#6e6e6e" stroke-width="0.6" />
<line x1="316.80" y1="359.70" x2="316.80" y2="357.70" stroke="#6e6e6e" stroke-width="0.7" />
<text x="316.80" y="368.20" font-size="6.2" fill="#333" stroke="#333" stroke-width="0.16" text-anchor="middle" font-weight="normal" font-family="'Liberation Sans', Arial, sans-serif" font-style="normal" >-2</text>
<line x1="331.60" y1="359.70" x2="331.60" y2="358.50" stroke="#6e6e6e" stroke-width="0.6" />
<line x1="346.40" y1="359.70" x2="346.40" y2="357.70" stroke="#6e6e6e" stroke-width="0.7" />
<text x="346.40" y="368.20" font-size="6.2" fill="#333" stroke="#333" stroke-width="0.16" text-anchor="middle" font-weight="normal" font-family="'Liberation Sans', Arial, sans-serif" font-style="normal" >0</text>
<text x="272.00" y="377.80" font-size="8.6" fill="#222" stroke="#222" stroke-width="0.16" text-anchor="middle" font-weight="normal" font-family="'Liberation Sans', Arial, sans-serif" font-style="normal" textLength="42.3" lengthAdjust="spacingAndGlyphs" >Voltage (V)</text>
<line x1="376.50" y1="146.15" x2="514.00" y2="146.15" stroke="#c8c8c8" stroke-width="0.8" stroke-dasharray="2,2.2"/>
<line x1="376.50" y1="171.70" x2="514.00" y2="171.70" stroke="#c8c8c8" stroke-width="0.8" stroke-dasharray="2,2.2"/>
<line x1="376.50" y1="197.25" x2="514.00" y2="197.25" stroke="#c8c8c8" stroke-width="0.8" stroke-dasharray="2,2.2"/>
<g fill="#111"><circle cx="376.80" cy="127.13" r="1.2"/><circle cx="379.52" cy="127.57" r="1.2"/><circle cx="382.24" cy="128.01" r="1.2"/><circle cx="384.96" cy="128.45" r="1.2"/><circle cx="387.68" cy="128.89" r="1.2"/><circle cx="390.40" cy="129.32" r="1.2"/><circle cx="393.12" cy="129.75" r="1.2"/><circle cx="395.84" cy="130.17" r="1.2"/><circle cx="398.56" cy="130.57" r="1.2"/><circle cx="401.28" cy="130.97" r="1.2"/><circle cx="404.00" cy="131.35" r="1.2"/><circle cx="406.72" cy="131.71" r="1.2"/><circle cx="409.44" cy="132.07" r="1.2"/><circle cx="412.16" cy="132.41" r="1.2"/><circle cx="414.88" cy="132.74" r="1.2"/><circle cx="417.60" cy="133.06" r="1.2"/><circle cx="420.32" cy="133.37" r="1.2"/><circle cx="423.04" cy="133.68" r="1.2"/><circle cx="425.76" cy="133.97" r="1.2"/><circle cx="428.48" cy="134.23" r="1.2"/><circle cx="431.20" cy="134.46" r="1.2"/><circle cx="433.92" cy="134.68" r="1.2"/><circle cx="436.64" cy="134.89" r="1.2"/><circle cx="439.36" cy="135.11" r="1.2"/><circle cx="442.08" cy="135.34" r="1.2"/><circle cx="444.80" cy="135.60" r="1.2"/><circle cx="447.52" cy="135.90" r="1.2"/><circle cx="450.24" cy="136.23" r="1.2"/><circle cx="452.96" cy="136.61" r="1.2"/><circle cx="455.68" cy="137.02" r="1.2"/><circle cx="458.40" cy="137.45" r="1.2"/><circle cx="461.12" cy="137.89" r="1.2"/><circle cx="463.84" cy="138.35" r="1.2"/><circle cx="466.56" cy="138.82" r="1.2"/><circle cx="469.28" cy="139.30" r="1.2"/><circle cx="472.00" cy="139.78" r="1.2"/><circle cx="474.72" cy="140.27" r="1.2"/><circle cx="477.44" cy="140.75" r="1.2"/><circle cx="480.16" cy="141.24" r="1.2"/><circle cx="482.88" cy="141.75" r="1.2"/><circle cx="485.60" cy="142.29" r="1.2"/><circle cx="488.32" cy="142.89" r="1.2"/><circle cx="491.04" cy="143.57" r="1.2"/><circle cx="493.76" cy="144.40" r="1.2"/><circle cx="496.48" cy="145.40" r="1.2"/><circle cx="499.20" cy="146.46" r="1.2"/><circle cx="501.92" cy="147.65" r="1.2"/><circle cx="504.64" cy="149.13" r="1.2"/><circle cx="507.36" cy="151.17" r="1.2"/><circle cx="510.10" cy="154.28" r="1.2"/><circle cx="512.10" cy="156.70" r="1.2"/></g>
<g fill="#c8141e"><polygon points="375.55,150.88 378.05,150.88 376.80,148.73"/><polygon points="378.27,151.29 380.77,151.29 379.52,149.14"/><polygon points="380.99,151.69 383.49,151.69 382.24,149.54"/><polygon points="383.71,152.10 386.21,152.10 384.96,149.95"/><polygon points="386.43,152.50 388.93,152.50 387.68,150.35"/><polygon points="389.15,152.92 391.65,152.92 390.40,150.77"/><polygon points="391.87,153.36 394.37,153.36 393.12,151.21"/><polygon points="394.59,153.81 397.09,153.81 395.84,151.66"/><polygon points="397.31,154.29 399.81,154.29 398.56,152.14"/><polygon points="400.03,154.81 402.53,154.81 401.28,152.66"/><polygon points="402.75,155.37 405.25,155.37 404.00,153.22"/><polygon points="405.47,155.97 407.97,155.97 406.72,153.82"/><polygon points="408.19,156.61 410.69,156.61 409.44,154.46"/><polygon points="410.91,157.27 413.41,157.27 412.16,155.12"/><polygon points="413.63,157.95 416.13,157.95 414.88,155.80"/><polygon points="416.35,158.66 418.85,158.66 417.60,156.51"/><polygon points="419.07,159.37 421.57,159.37 420.32,157.22"/><polygon points="421.79,160.10 424.29,160.10 423.04,157.95"/><polygon points="424.51,160.83 427.01,160.83 425.76,158.68"/><polygon points="427.23,161.56 429.73,161.56 428.48,159.41"/><polygon points="429.95,162.30 432.45,162.30 431.20,160.15"/><polygon points="432.67,163.04 435.17,163.04 433.92,160.89"/><polygon points="435.39,163.80 437.89,163.80 436.64,161.65"/><polygon points="438.11,164.57 440.61,164.57 439.36,162.42"/><polygon points="440.83,165.36 443.33,165.36 442.08,163.21"/><polygon points="443.55,166.17 446.05,166.17 444.80,164.02"/><polygon points="446.27,167.02 448.77,167.02 447.52,164.87"/><polygon points="448.99,167.94 451.49,167.94 450.24,165.79"/><polygon points="451.71,168.98 454.21,168.98 452.96,166.83"/><polygon points="454.43,170.24 456.93,170.24 455.68,168.09"/><polygon points="457.15,171.72 459.65,171.72 458.40,169.57"/><polygon points="459.87,173.13 462.37,173.13 461.12,170.98"/><polygon points="462.59,174.37 465.09,174.37 463.84,172.22"/><polygon points="465.31,175.52 467.81,175.52 466.56,173.37"/><polygon points="468.03,176.66 470.53,176.66 469.28,174.51"/><polygon points="470.75,177.83 473.25,177.83 472.00,175.68"/><polygon points="473.47,179.06 475.97,179.06 474.72,176.91"/><polygon points="476.19,180.42 478.69,180.42 477.44,178.27"/><polygon points="478.91,181.94 481.41,181.94 480.16,179.79"/><polygon points="481.63,183.59 484.13,183.59 482.88,181.44"/><polygon points="484.35,185.35 486.85,185.35 485.60,183.20"/><polygon points="487.07,187.19 489.57,187.19 488.32,185.04"/><polygon points="489.79,189.10 492.29,189.10 491.04,186.95"/><polygon points="492.51,191.10 495.01,191.10 493.76,188.95"/><polygon points="495.23,193.31 497.73,193.31 496.48,191.16"/><polygon points="497.95,195.66 500.45,195.66 499.20,193.51"/><polygon points="500.67,198.03 503.17,198.03 501.92,195.88"/><polygon points="503.39,200.90 505.89,200.90 504.64,198.75"/><polygon points="506.11,204.55 508.61,204.55 507.36,202.40"/><polygon points="508.85,209.49 511.35,209.49 510.10,207.34"/><polygon points="510.85,214.95 513.35,214.95 512.10,212.80"/></g>
<rect x="376.50" y="120.60" width="137.50" height="102.20" fill="none" stroke="#333" stroke-width="1.0" />
<line x1="376.50" y1="120.60" x2="378.50" y2="120.60" stroke="#333" stroke-width="0.7" />
<text x="360.8" y="123.00" font-size="6.8" font-family="'Liberation Sans', Arial, sans-serif" fill="#222">10<tspan font-size="4.6" dy="-2.8">-5</tspan></text>
<line x1="376.50" y1="146.15" x2="378.50" y2="146.15" stroke="#333" stroke-width="0.7" />
<text x="360.8" y="148.55" font-size="6.8" font-family="'Liberation Sans', Arial, sans-serif" fill="#222">10<tspan font-size="4.6" dy="-2.8">-6</tspan></text>
<line x1="376.50" y1="171.70" x2="378.50" y2="171.70" stroke="#333" stroke-width="0.7" />
<text x="360.8" y="174.10" font-size="6.8" font-family="'Liberation Sans', Arial, sans-serif" fill="#222">10<tspan font-size="4.6" dy="-2.8">-7</tspan></text>
<line x1="376.50" y1="197.25" x2="378.50" y2="197.25" stroke="#333" stroke-width="0.7" />
<text x="360.8" y="199.65" font-size="6.8" font-family="'Liberation Sans', Arial, sans-serif" fill="#222">10<tspan font-size="4.6" dy="-2.8">-8</tspan></text>
<line x1="376.50" y1="222.80" x2="378.50" y2="222.80" stroke="#333" stroke-width="0.7" />
<text x="360.8" y="225.20" font-size="6.8" font-family="'Liberation Sans', Arial, sans-serif" fill="#222">10<tspan font-size="4.6" dy="-2.8">-9</tspan></text>
<line x1="376.50" y1="222.80" x2="376.50" y2="220.80" stroke="#333" stroke-width="0.7" />
<text x="376.50" y="232.40" font-size="7.0" fill="#222" stroke="#222" stroke-width="0.16" text-anchor="middle" font-weight="normal" font-family="'Liberation Sans', Arial, sans-serif" font-style="normal" >-5</text>
<line x1="390.25" y1="222.80" x2="390.25" y2="221.60" stroke="#333" stroke-width="0.6" />
<line x1="404.00" y1="222.80" x2="404.00" y2="220.80" stroke="#333" stroke-width="0.7" />
<text x="404.00" y="232.40" font-size="7.0" fill="#222" stroke="#222" stroke-width="0.16" text-anchor="middle" font-weight="normal" font-family="'Liberation Sans', Arial, sans-serif" font-style="normal" >-4</text>
<line x1="417.75" y1="222.80" x2="417.75" y2="221.60" stroke="#333" stroke-width="0.6" />
<line x1="431.50" y1="222.80" x2="431.50" y2="220.80" stroke="#333" stroke-width="0.7" />
<text x="431.50" y="232.40" font-size="7.0" fill="#222" stroke="#222" stroke-width="0.16" text-anchor="middle" font-weight="normal" font-family="'Liberation Sans', Arial, sans-serif" font-style="normal" >-3</text>
<line x1="445.25" y1="222.80" x2="445.25" y2="221.60" stroke="#333" stroke-width="0.6" />
<line x1="459.00" y1="222.80" x2="459.00" y2="220.80" stroke="#333" stroke-width="0.7" />
<text x="459.00" y="232.40" font-size="7.0" fill="#222" stroke="#222" stroke-width="0.16" text-anchor="middle" font-weight="normal" font-family="'Liberation Sans', Arial, sans-serif" font-style="normal" >-2</text>
<line x1="472.75" y1="222.80" x2="472.75" y2="221.60" stroke="#333" stroke-width="0.6" />
<line x1="486.50" y1="222.80" x2="486.50" y2="220.80" stroke="#333" stroke-width="0.7" />
<text x="486.50" y="232.40" font-size="7.0" fill="#222" stroke="#222" stroke-width="0.16" text-anchor="middle" font-weight="normal" font-family="'Liberation Sans', Arial, sans-serif" font-style="normal" >-1</text>
<line x1="500.25" y1="222.80" x2="500.25" y2="221.60" stroke="#333" stroke-width="0.6" />
<line x1="514.00" y1="222.80" x2="514.00" y2="220.80" stroke="#333" stroke-width="0.7" />
<text x="514.00" y="232.40" font-size="7.0" fill="#222" stroke="#222" stroke-width="0.16" text-anchor="middle" font-weight="normal" font-family="'Liberation Sans', Arial, sans-serif" font-style="normal" >0</text>
<text x="444.20" y="240.80" font-size="7.9" fill="#222" stroke="#222" stroke-width="0.16" text-anchor="middle" font-weight="normal" font-family="'Liberation Sans', Arial, sans-serif" font-style="normal" textLength="39.2" lengthAdjust="spacingAndGlyphs" >Voltage (V)</text>
<text transform="translate(356.8,172.7) rotate(-90)" font-size="8" font-family="'Liberation Sans', Arial, sans-serif" fill="#222" text-anchor="middle" textLength="59.2" lengthAdjust="spacingAndGlyphs">Dark Current (A)</text>
<rect x="380.00" y="189.50" width="86.00" height="18.50" fill="#fff" stroke="none" stroke-width="0" />
<circle cx="393.6" cy="195" r="1.35" fill="#111"/>
<polygon points="392.2,204.1 395.0,204.1 393.6,201.7" fill="#c8141e"/>
<text x="403.40" y="197.50" font-size="7.0" fill="#222" stroke="#222" stroke-width="0.16" text-anchor="start" font-weight="normal" font-family="'Liberation Sans', Arial, sans-serif" font-style="normal" textLength="59.5" lengthAdjust="spacingAndGlyphs" >Before Passivation</text>
<text x="403.40" y="205.90" font-size="7.0" fill="#222" stroke="#222" stroke-width="0.16" text-anchor="start" font-weight="normal" font-family="'Liberation Sans', Arial, sans-serif" font-style="normal" textLength="55" lengthAdjust="spacingAndGlyphs" >After Passivation</text>
<text x="341.60" y="123.20" font-size="13.8" fill="#111" stroke="#111" stroke-width="0.3" text-anchor="start" font-weight="bold" font-family="'Liberation Serif', 'Times New Roman', serif" font-style="normal" >(g)</text>
<clipPath id="hclip"><rect x="373.9" y="248.6" width="137.10000000000002" height="110.9"/></clipPath>
<g clip-path="url(#hclip)">
<polyline points="374.00,303.70 400.00,302.00 425.00,300.50 450.00,299.00 475.00,297.60 511.00,296.40" fill="none" stroke="#222" stroke-width="0.8" stroke-linejoin="round" stroke-linecap="round" stroke-dasharray="2.2,1.3,0.7,1.3"/>
<polyline points="373.90,311.50 374.25,311.30 374.67,311.05 375.16,310.75 375.71,310.41 376.32,310.05 376.99,309.67 377.69,309.29 378.43,308.91 379.20,308.54 380.00,308.20 380.82,307.87 381.67,307.54 382.56,307.21 383.48,306.87 384.44,306.54 385.45,306.22 386.51,305.90 387.62,305.59 388.78,305.29 390.00,305.00 391.30,304.72 392.68,304.45 394.13,304.19 395.64,303.93 397.19,303.69 398.76,303.45 400.34,303.22 401.92,303.00 403.48,302.80 405.00,302.60 406.50,302.42 408.00,302.25 409.50,302.10 411.00,301.96 412.50,301.82 414.00,301.70 415.50,301.57 417.00,301.45 418.50,301.33 420.00,301.20 421.53,301.07 423.11,300.94 424.72,300.80 426.34,300.67 427.94,300.54 429.50,300.42 431.01,300.30 432.45,300.19 433.78,300.09 435.00,300.00 436.10,299.91 437.11,299.82 438.04,299.72 438.90,299.63 439.69,299.55 440.42,299.49 441.11,299.44 441.77,299.43 442.39,299.45 443.00,299.50 443.56,299.59 444.06,299.70 444.49,299.84 444.89,300.00 445.25,300.19 445.59,300.40 445.93,300.64 446.26,300.90 446.62,301.19 447.00,301.50 447.40,301.84 447.80,302.22 448.20,302.62 448.60,303.05 449.00,303.50 449.40,303.97 449.80,304.46 450.20,304.96 450.60,305.48 451.00,306.00 451.40,306.53 451.80,307.07 452.20,307.63 452.60,308.20 453.00,308.78 453.40,309.38 453.80,310.01 454.20,310.65 454.60,311.31 455.00,312.00 455.42,312.75 455.86,313.60 456.33,314.51 456.79,315.44 457.25,316.38 457.69,317.28 458.09,318.12 458.46,318.88 458.76,319.52 459.00,320.00" fill="none" stroke="#d03a3a" stroke-width="1.3" stroke-linejoin="round" stroke-linecap="round" />
<polyline points="407.40,311.60 408.14,311.32 409.08,310.96 410.18,310.52 411.42,310.03 412.76,309.51 414.18,308.97 415.65,308.44 417.12,307.92 418.59,307.43 420.00,307.00 421.40,306.61 422.85,306.23 424.32,305.86 425.83,305.51 427.35,305.16 428.88,304.83 430.42,304.51 431.96,304.20 433.49,303.89 435.00,303.60 436.50,303.31 438.00,303.04 439.50,302.78 441.00,302.52 442.50,302.28 444.00,302.04 445.50,301.82 447.00,301.60 448.50,301.40 450.00,301.20 451.50,301.01 453.00,300.84 454.50,300.68 456.00,300.52 457.50,300.38 459.00,300.24 460.50,300.11 462.00,300.00 463.50,299.89 465.00,299.80 466.50,299.72 468.00,299.66 469.50,299.61 471.00,299.57 472.50,299.54 474.00,299.51 475.50,299.49 477.00,299.46 478.50,299.44 480.00,299.40 481.50,299.36 482.98,299.32 484.47,299.27 485.95,299.23 487.44,299.19 488.93,299.15 490.43,299.11 491.94,299.07 493.46,299.03 495.00,299.00 496.63,298.97 498.39,298.94 500.23,298.92 502.10,298.90 503.94,298.88 505.70,298.86 507.34,298.84 508.81,298.82 510.04,298.81 511.00,298.80" fill="none" stroke="#4858a8" stroke-width="1.2" stroke-linejoin="round" stroke-linecap="round" />
<polyline points="373.90,267.70 374.54,267.51 375.35,267.28 376.29,267.00 377.35,266.68 378.51,266.34 379.75,265.98 381.03,265.61 382.35,265.24 383.68,264.86 385.00,264.50 386.34,264.13 387.75,263.75 389.21,263.35 390.72,262.95 392.26,262.54 393.81,262.13 395.38,261.73 396.94,261.33 398.48,260.96 400.00,260.60 401.52,260.26 403.08,259.92 404.66,259.58 406.24,259.26 407.81,258.94 409.36,258.64 410.87,258.35 412.32,258.08 413.70,257.83 415.00,257.60 416.18,257.39 417.24,257.21 418.21,257.04 419.12,256.89 420.00,256.76 420.88,256.63 421.79,256.52 422.76,256.41 423.82,256.30 425.00,256.20 426.29,256.10 427.66,256.00 429.09,255.91 430.57,255.83 432.09,255.76 433.65,255.69 435.23,255.63 436.82,255.58 438.42,255.53 440.00,255.50 441.65,255.47 443.43,255.43 445.28,255.40 447.16,255.37 449.03,255.36 450.84,255.36 452.53,255.38 454.07,255.42 455.41,255.49 456.50,255.60 457.30,255.68 457.84,255.70 458.17,255.69 458.34,255.69 458.41,255.74 458.42,255.88 458.43,256.13 458.50,256.55 458.67,257.16 459.00,258.00 459.46,259.10 459.98,260.45 460.54,262.00 461.15,263.70 461.78,265.52 462.43,267.43 463.09,269.37 463.74,271.30 464.38,273.19 465.00,275.00 465.62,276.82 466.26,278.74 466.93,280.72 467.59,282.73 468.25,284.72 468.89,286.65 469.49,288.49 470.06,290.18 470.56,291.70 471.00,293.00 471.34,294.08 471.58,294.97 471.74,295.71 471.85,296.32 471.94,296.81 472.03,297.22 472.16,297.57 472.34,297.89 472.62,298.19 473.00,298.50 473.46,298.79 473.95,299.00 474.48,299.16 475.06,299.27 475.69,299.34 476.38,299.38 477.15,299.41 478.01,299.43 478.95,299.46 480.00,299.50 481.17,299.55 482.47,299.58 483.88,299.59 485.38,299.60 486.94,299.60 488.54,299.60 490.17,299.59 491.81,299.59 493.42,299.59 495.00,299.60 496.63,299.62 498.39,299.64 500.23,299.66 502.10,299.68 503.94,299.71 505.70,299.73 507.34,299.75 508.81,299.77 510.04,299.79 511.00,299.80" fill="none" stroke="#c83a4a" stroke-width="0.95" stroke-linejoin="round" stroke-dasharray="1.7,2.9" stroke-linecap="butt"/>
<polyline points="373.90,269.15 374.54,268.96 375.35,268.73 376.29,268.45 377.35,268.13 378.51,267.79 379.75,267.43 381.03,267.06 382.35,266.69 383.68,266.31 385.00,265.95 386.34,265.58 387.75,265.20 389.21,264.80 390.72,264.40 392.26,263.99 393.81,263.58 395.38,263.18 396.94,262.78 398.48,262.41 400.00,262.05 401.52,261.71 403.08,261.37 404.66,261.03 406.24,260.71 407.81,260.39 409.36,260.09 410.87,259.80 412.32,259.53 413.70,259.28 415.00,259.05 416.18,258.84 417.24,258.66 418.21,258.49 419.12,258.34 420.00,258.21 420.88,258.08 421.79,257.97 422.76,257.86 423.82,257.75 425.00,257.65 426.29,257.55 427.66,257.45 429.09,257.36 430.57,257.28 432.09,257.21 433.65,257.14 435.23,257.08 436.82,257.03 438.42,256.98 440.00,256.95 441.65,256.92 443.43,256.89 445.28,256.87 447.16,256.85 449.03,256.84 450.84,256.85 452.53,256.87 454.07,256.91 455.41,256.97 456.50,257.05 457.30,257.09 457.84,257.06 458.17,257.00 458.34,256.93 458.41,256.91 458.42,256.98 458.43,257.16 458.50,257.52 458.67,258.07 459.00,258.87 459.46,259.94 459.98,261.27 460.54,262.79 461.15,264.49 461.78,266.30 462.43,268.20 463.09,270.13 463.74,272.06 464.38,273.94 465.00,275.73 465.62,277.51 466.26,279.39 466.93,281.33 467.59,283.28 468.25,285.23 468.89,287.12 469.49,288.92 470.06,290.60 470.56,292.11 471.00,293.44 471.34,294.56 471.58,295.54 471.74,296.39 471.85,297.11 471.94,297.74 472.03,298.28 472.16,298.75 472.34,299.18 472.62,299.57 473.00,299.95 473.46,300.28 473.95,300.52 474.48,300.68 475.06,300.79 475.69,300.85 476.38,300.88 477.15,300.89 478.01,300.90 478.95,300.91 480.00,300.95 481.17,301.00 482.47,301.03 483.88,301.04 485.38,301.05 486.94,301.05 488.54,301.05 490.17,301.04 491.81,301.04 493.42,301.04 495.00,301.05 496.63,301.07 498.39,301.09 500.23,301.11 502.10,301.13 503.94,301.16 505.70,301.18 507.34,301.20 508.81,301.22 510.04,301.24 511.00,301.25" fill="none" stroke="#2a2a4a" stroke-width="0.95" stroke-linejoin="round" stroke-dasharray="1.7,2.9" stroke-linecap="butt"/>
<polyline points="373.90,270.60 374.54,270.41 375.35,270.18 376.29,269.90 377.35,269.58 378.51,269.24 379.75,268.88 381.03,268.51 382.35,268.14 383.68,267.76 385.00,267.40 386.34,267.03 387.75,266.65 389.21,266.25 390.72,265.85 392.26,265.44 393.81,265.03 395.38,264.63 396.94,264.23 398.48,263.86 400.00,263.50 401.52,263.16 403.08,262.82 404.66,262.48 406.24,262.16 407.81,261.84 409.36,261.54 410.87,261.25 412.32,260.98 413.70,260.73 415.00,260.50 416.18,260.29 417.24,260.11 418.21,259.94 419.12,259.79 420.00,259.66 420.88,259.53 421.79,259.42 422.76,259.31 423.82,259.20 425.00,259.10 426.29,259.00 427.66,258.90 429.09,258.81 430.57,258.73 432.09,258.66 433.65,258.59 435.23,258.53 436.82,258.48 438.42,258.43 440.00,258.40 441.65,258.37 443.43,258.35 445.28,258.34 447.16,258.33 449.03,258.33 450.84,258.34 452.53,258.36 454.07,258.39 455.41,258.44 456.50,258.50 457.30,258.51 457.84,258.43 458.17,258.30 458.34,258.17 458.41,258.08 458.42,258.08 458.43,258.20 458.50,258.48 458.67,258.98 459.00,259.74 459.46,260.78 459.98,262.08 460.54,263.59 461.15,265.28 461.78,267.08 462.43,268.97 463.09,270.90 463.74,272.82 464.38,274.68 465.00,276.45 465.62,278.21 466.26,280.05 466.93,281.94 467.59,283.84 468.25,285.73 468.89,287.58 469.49,289.35 470.06,291.01 470.56,292.53 471.00,293.87 471.34,295.05 471.58,296.11 471.74,297.06 471.85,297.91 471.94,298.66 472.03,299.33 472.16,299.93 472.34,300.47 472.62,300.96 473.00,301.40 473.46,301.77 473.95,302.03 474.48,302.21 475.06,302.31 475.69,302.36 476.38,302.38 477.15,302.37 478.01,302.36 478.95,302.37 480.00,302.40 481.17,302.45 482.47,302.48 483.88,302.49 485.38,302.50 486.94,302.50 488.54,302.50 490.17,302.49 491.81,302.49 493.42,302.49 495.00,302.50 496.63,302.52 498.39,302.54 500.23,302.56 502.10,302.58 503.94,302.61 505.70,302.63 507.34,302.65 508.81,302.67 510.04,302.69 511.00,302.70" fill="none" stroke="#7a3a8a" stroke-width="0.95" stroke-linejoin="round" stroke-dasharray="1.7,2.9" stroke-linecap="butt"/>
<polyline points="373.90,272.05 374.54,271.86 375.35,271.63 376.29,271.35 377.35,271.03 378.51,270.69 379.75,270.33 381.03,269.96 382.35,269.59 383.68,269.21 385.00,268.85 386.34,268.48 387.75,268.10 389.21,267.70 390.72,267.30 392.26,266.89 393.81,266.48 395.38,266.08 396.94,265.68 398.48,265.31 400.00,264.95 401.52,264.61 403.08,264.27 404.66,263.93 406.24,263.61 407.81,263.29 409.36,262.99 410.87,262.70 412.32,262.43 413.70,262.18 415.00,261.95 416.18,261.74 417.24,261.56 418.21,261.39 419.12,261.24 420.00,261.11 420.88,260.98 421.79,260.87 422.76,260.76 423.82,260.65 425.00,260.55 426.29,260.45 427.66,260.35 429.09,260.26 430.57,260.18 432.09,260.11 433.65,260.04 435.23,259.98 436.82,259.93 438.42,259.88 440.00,259.85 441.65,259.83 443.43,259.81 445.28,259.80 447.16,259.81 449.03,259.82 450.84,259.83 452.53,259.85 454.07,259.88 455.41,259.91 456.50,259.95 457.30,259.92 457.84,259.79 458.17,259.61 458.34,259.41 458.41,259.25 458.42,259.17 458.43,259.23 458.50,259.45 458.67,259.90 459.00,260.61 459.46,261.62 459.98,262.90 460.54,264.39 461.15,266.06 461.78,267.86 462.43,269.74 463.09,271.66 463.74,273.57 464.38,275.42 465.00,277.18 465.62,278.90 466.26,280.70 466.93,282.54 467.59,284.40 468.25,286.24 468.89,288.04 469.49,289.78 470.06,291.42 470.56,292.94 471.00,294.31 471.34,295.54 471.58,296.68 471.74,297.74 471.85,298.70 471.94,299.59 472.03,300.39 472.16,301.11 472.34,301.76 472.62,302.34 473.00,302.85 473.46,303.26 473.95,303.55 474.48,303.73 475.06,303.84 475.69,303.88 476.38,303.88 477.15,303.85 478.01,303.83 478.95,303.82 480.00,303.85 481.17,303.90 482.47,303.93 483.88,303.94 485.38,303.95 486.94,303.95 488.54,303.95 490.17,303.94 491.81,303.94 493.42,303.94 495.00,303.95 496.63,303.97 498.39,303.99 500.23,304.01 502.10,304.03 503.94,304.06 505.70,304.08 507.34,304.10 508.81,304.12 510.04,304.14 511.00,304.15" fill="none" stroke="#2a3a7a" stroke-width="0.95" stroke-linejoin="round" stroke-dasharray="1.7,2.9" stroke-linecap="butt"/>
<polyline points="373.90,282.40 374.25,282.28 374.67,282.15 375.16,282.00 375.71,281.83 376.32,281.64 376.99,281.41 377.69,281.13 378.43,280.81 379.20,280.44 380.00,280.00 380.84,279.48 381.75,278.86 382.71,278.18 383.72,277.44 384.76,276.66 385.81,275.88 386.88,275.10 387.94,274.35 388.98,273.64 390.00,273.00 391.00,272.41 392.00,271.84 393.00,271.28 394.00,270.75 395.00,270.24 396.00,269.75 397.00,269.28 398.00,268.83 399.00,268.40 400.00,268.00 400.98,267.62 401.92,267.26 402.84,266.93 403.76,266.62 404.69,266.32 405.64,266.06 406.63,265.81 407.68,265.58 408.80,265.38 410.00,265.20 411.30,265.05 412.68,264.93 414.13,264.84 415.64,264.77 417.19,264.73 418.76,264.69 420.34,264.67 421.92,264.65 423.48,264.63 425.00,264.60 426.50,264.57 428.00,264.56 429.50,264.55 431.00,264.55 432.50,264.55 434.00,264.56 435.50,264.57 437.00,264.58 438.50,264.59 440.00,264.60 441.55,264.60 443.19,264.60 444.88,264.58 446.58,264.57 448.25,264.56 449.86,264.57 451.38,264.59 452.77,264.63 453.99,264.70 455.00,264.80 455.76,264.86 456.29,264.83 456.62,264.75 456.82,264.68 456.94,264.66 457.02,264.74 457.11,264.97 457.27,265.39 457.55,266.05 458.00,267.00 458.60,268.29 459.30,269.89 460.06,271.75 460.89,273.81 461.75,276.01 462.63,278.29 463.52,280.59 464.38,282.84 465.22,285.00 466.00,287.00 466.76,288.94 467.53,290.94 468.30,292.97 469.06,294.99 469.81,296.97 470.54,298.87 471.23,300.66 471.87,302.30 472.47,303.76 473.00,305.00 473.46,306.01 473.84,306.81 474.16,307.43 474.44,307.91 474.69,308.27 474.92,308.55 475.15,308.78 475.40,309.00 475.68,309.22 476.00,309.50 476.33,309.79 476.64,310.06 476.94,310.29 477.24,310.50 477.56,310.68 477.92,310.83 478.33,310.96 478.80,311.06 479.35,311.14 480.00,311.20 480.71,311.22 481.44,311.21 482.21,311.16 483.04,311.08 483.94,310.98 484.92,310.87 486.00,310.75 487.20,310.63 488.53,310.51 490.00,310.40 491.75,310.29 493.83,310.17 496.15,310.03 498.62,309.89 501.12,309.75 503.58,309.61 505.90,309.48 507.97,309.37 509.70,309.27 511.00,309.20" fill="none" stroke="#9ac070" stroke-width="0.9" stroke-linejoin="round" stroke-dasharray="2.4,2.6" stroke-linecap="butt"/>
</g>
<rect x="373.90" y="248.60" width="137.10" height="110.90" fill="none" stroke="#333" stroke-width="1.0" />
<line x1="373.90" y1="255.50" x2="375.90" y2="255.50" stroke="#333" stroke-width="0.7" />
<text x="372.0" y="257.80" font-size="6.6" font-family="'Liberation Sans', Arial, sans-serif" fill="#222" text-anchor="end">10<tspan font-size="4.4" dy="-2.6">3</tspan></text>
<line x1="373.90" y1="269.35" x2="375.90" y2="269.35" stroke="#333" stroke-width="0.7" />
<text x="372.0" y="271.65" font-size="6.6" font-family="'Liberation Sans', Arial, sans-serif" fill="#222" text-anchor="end">10<tspan font-size="4.4" dy="-2.6">2</tspan></text>
<line x1="373.90" y1="283.20" x2="375.90" y2="283.20" stroke="#333" stroke-width="0.7" />
<text x="372.0" y="285.50" font-size="6.6" font-family="'Liberation Sans', Arial, sans-serif" fill="#222" text-anchor="end">10<tspan font-size="4.4" dy="-2.6">1</tspan></text>
<line x1="373.90" y1="297.05" x2="375.90" y2="297.05" stroke="#333" stroke-width="0.7" />
<text x="372.0" y="299.35" font-size="6.6" font-family="'Liberation Sans', Arial, sans-serif" fill="#222" text-anchor="end">10<tspan font-size="4.4" dy="-2.6">0</tspan></text>
<line x1="373.90" y1="310.90" x2="375.90" y2="310.90" stroke="#333" stroke-width="0.7" />
<text x="372.0" y="313.20" font-size="6.6" font-family="'Liberation Sans', Arial, sans-serif" fill="#222" text-anchor="end">10<tspan font-size="4.4" dy="-2.6">-1</tspan></text>
<line x1="373.90" y1="324.75" x2="375.90" y2="324.75" stroke="#333" stroke-width="0.7" />
<text x="372.0" y="327.05" font-size="6.6" font-family="'Liberation Sans', Arial, sans-serif" fill="#222" text-anchor="end">10<tspan font-size="4.4" dy="-2.6">-2</tspan></text>
<line x1="373.90" y1="338.60" x2="375.90" y2="338.60" stroke="#333" stroke-width="0.7" />
<text x="372.0" y="340.90" font-size="6.6" font-family="'Liberation Sans', Arial, sans-serif" fill="#222" text-anchor="end">10<tspan font-size="4.4" dy="-2.6">-3</tspan></text>
<line x1="373.90" y1="352.45" x2="375.90" y2="352.45" stroke="#333" stroke-width="0.7" />
<text x="372.0" y="354.75" font-size="6.6" font-family="'Liberation Sans', Arial, sans-serif" fill="#222" text-anchor="end">10<tspan font-size="4.4" dy="-2.6">-4</tspan></text>
<line x1="373.90" y1="359.50" x2="373.90" y2="357.50" stroke="#333" stroke-width="0.7" />
<text x="374.30" y="368.70" font-size="6.8" fill="#222" stroke="#222" stroke-width="0.16" text-anchor="middle" font-weight="normal" font-family="'Liberation Sans', Arial, sans-serif" font-style="normal" >400</text>
<line x1="385.32" y1="359.50" x2="385.32" y2="358.30" stroke="#333" stroke-width="0.6" />
<line x1="396.75" y1="359.50" x2="396.75" y2="357.50" stroke="#333" stroke-width="0.7" />
<text x="397.15" y="368.70" font-size="6.8" fill="#222" stroke="#222" stroke-width="0.16" text-anchor="middle" font-weight="normal" font-family="'Liberation Sans', Arial, sans-serif" font-style="normal" >600</text>
<line x1="408.17" y1="359.50" x2="408.17" y2="358.30" stroke="#333" stroke-width="0.6" />
<line x1="419.60" y1="359.50" x2="419.60" y2="357.50" stroke="#333" stroke-width="0.7" />
<text x="420.00" y="368.70" font-size="6.8" fill="#222" stroke="#222" stroke-width="0.16" text-anchor="middle" font-weight="normal" font-family="'Liberation Sans', Arial, sans-serif" font-style="normal" >800</text>
<line x1="431.02" y1="359.50" x2="431.02" y2="358.30" stroke="#333" stroke-width="0.6" />
<line x1="442.45" y1="359.50" x2="442.45" y2="357.50" stroke="#333" stroke-width="0.7" />
<text x="442.85" y="368.70" font-size="6.8" fill="#222" stroke="#222" stroke-width="0.16" text-anchor="middle" font-weight="normal" font-family="'Liberation Sans', Arial, sans-serif" font-style="normal" >1000</text>
<line x1="453.88" y1="359.50" x2="453.88" y2="358.30" stroke="#333" stroke-width="0.6" />
<line x1="465.30" y1="359.50" x2="465.30" y2="357.50" stroke="#333" stroke-width="0.7" />
<text x="465.70" y="368.70" font-size="6.8" fill="#222" stroke="#222" stroke-width="0.16" text-anchor="middle" font-weight="normal" font-family="'Liberation Sans', Arial, sans-serif" font-style="normal" >1200</text>
<line x1="476.73" y1="359.50" x2="476.73" y2="358.30" stroke="#333" stroke-width="0.6" />
<line x1="488.15" y1="359.50" x2="488.15" y2="357.50" stroke="#333" stroke-width="0.7" />
<text x="488.55" y="368.70" font-size="6.8" fill="#222" stroke="#222" stroke-width="0.16" text-anchor="middle" font-weight="normal" font-family="'Liberation Sans', Arial, sans-serif" font-style="normal" >1400</text>
<line x1="499.57" y1="359.50" x2="499.57" y2="358.30" stroke="#333" stroke-width="0.6" />
<line x1="511.00" y1="359.50" x2="511.00" y2="357.50" stroke="#333" stroke-width="0.7" />
<text x="511.40" y="368.70" font-size="6.8" fill="#222" stroke="#222" stroke-width="0.16" text-anchor="middle" font-weight="normal" font-family="'Liberation Sans', Arial, sans-serif" font-style="normal" >1600</text>
<text x="440.20" y="378.70" font-size="7.0" fill="#222" stroke="#222" stroke-width="0.16" text-anchor="middle" font-weight="normal" font-family="'Liberation Sans', Arial, sans-serif" font-style="normal" textLength="51.5" lengthAdjust="spacingAndGlyphs" >Wavelength (nm)</text>
<text transform="translate(357,303.5) rotate(-90)" font-size="6.6" font-family="'Liberation Sans', Arial, sans-serif" fill="#222" text-anchor="middle" textLength="54" lengthAdjust="spacingAndGlyphs">Responsivity (A/W)</text>
<line x1="397.60" y1="276.10" x2="410.40" y2="276.10" stroke="#222" stroke-width="0.9" stroke-dasharray="2.2,1.3,0.7,1.3"/>
<line x1="397.60" y1="282.80" x2="410.40" y2="282.80" stroke="#d03a3a" stroke-width="1.2" />
<line x1="397.60" y1="289.30" x2="410.40" y2="289.30" stroke="#4858a8" stroke-width="1.2" />
<text x="412.40" y="278.20" font-size="5.6" fill="#222" stroke="#222" stroke-width="0.16" text-anchor="start" font-weight="normal" font-family="'Liberation Sans', Arial, sans-serif" font-style="normal" textLength="26" lengthAdjust="spacingAndGlyphs" >100% EQE</text>
<text x="412.40" y="284.90" font-size="5.6" fill="#222" stroke="#222" stroke-width="0.16" text-anchor="start" font-weight="normal" font-family="'Liberation Sans', Arial, sans-serif" font-style="normal" textLength="43.9" lengthAdjust="spacingAndGlyphs" >commercial Si PD</text>
<text x="412.40" y="291.40" font-size="5.6" fill="#222" stroke="#222" stroke-width="0.16" text-anchor="start" font-weight="normal" font-family="'Liberation Sans', Arial, sans-serif" font-style="normal" textLength="44.7" lengthAdjust="spacingAndGlyphs" >commercial Ge PD</text>
<line x1="476.00" y1="257.50" x2="485.20" y2="257.50" stroke="#c83a3a" stroke-width="1.0" stroke-dasharray="3,2.6"/>
<text x="489.20" y="259.60" font-size="5.9" fill="#222" stroke="#222" stroke-width="0.16" text-anchor="start" font-weight="normal" font-family="'Liberation Sans', Arial, sans-serif" font-style="normal" >20 V</text>
<line x1="476.00" y1="264.20" x2="485.20" y2="264.20" stroke="#2a2a4a" stroke-width="1.0" stroke-dasharray="3,2.6"/>
<text x="489.20" y="266.30" font-size="5.9" fill="#222" stroke="#222" stroke-width="0.16" text-anchor="start" font-weight="normal" font-family="'Liberation Sans', Arial, sans-serif" font-style="normal" >15 V</text>
<line x1="476.00" y1="270.60" x2="485.20" y2="270.60" stroke="#7a3a8a" stroke-width="1.0" stroke-dasharray="3,2.6"/>
<text x="489.20" y="272.70" font-size="5.9" fill="#222" stroke="#222" stroke-width="0.16" text-anchor="start" font-weight="normal" font-family="'Liberation Sans', Arial, sans-serif" font-style="normal" >8 V</text>
<line x1="476.00" y1="277.10" x2="485.20" y2="277.10" stroke="#2a3a7a" stroke-width="1.0" stroke-dasharray="3,2.6"/>
<text x="489.20" y="279.20" font-size="5.9" fill="#222" stroke="#222" stroke-width="0.16" text-anchor="start" font-weight="normal" font-family="'Liberation Sans', Arial, sans-serif" font-style="normal" >5 V</text>
<line x1="476.00" y1="283.50" x2="485.20" y2="283.50" stroke="#a8c890" stroke-width="1.0" stroke-dasharray="3,2.6"/>
<text x="489.20" y="285.60" font-size="5.9" fill="#222" stroke="#222" stroke-width="0.16" text-anchor="start" font-weight="normal" font-family="'Liberation Sans', Arial, sans-serif" font-style="normal" >1.5 V</text>
<rect x="389.60" y="316.30" width="50.00" height="35.70" fill="#fff" stroke="#2a2a2a" stroke-width="1.1" />
<polyline points="393.90,349.10 393.94,349.04 393.99,348.95 394.04,348.86 394.11,348.75 394.17,348.63 394.25,348.51 394.32,348.39 394.39,348.26 394.46,348.13 394.53,348.02 394.59,347.90 394.65,347.79 394.71,347.67 394.77,347.55 394.83,347.43 394.89,347.31 394.95,347.19 395.01,347.06 395.08,346.93 395.15,346.80 395.23,346.66 395.30,346.52 395.38,346.37 395.46,346.22 395.54,346.07 395.63,345.92 395.71,345.76 395.80,345.61 395.89,345.46 395.98,345.31 396.08,345.16 396.18,345.01 396.28,344.86 396.39,344.71 396.49,344.56 396.60,344.41 396.71,344.26 396.82,344.11 396.92,343.96 397.03,343.82 397.13,343.67 397.22,343.53 397.31,343.39 397.39,343.25 397.48,343.11 397.58,342.97 397.68,342.82 397.79,342.67 397.92,342.50 398.07,342.33 398.23,342.15 398.39,341.97 398.55,341.80 398.73,341.62 398.92,341.44 399.12,341.23 399.34,341.01 399.59,340.76 399.86,340.48 400.15,340.16 400.48,339.80 400.82,339.40 401.19,338.96 401.57,338.50 401.98,338.02 402.41,337.53 402.86,337.03 403.32,336.53 403.81,336.03 404.32,335.55 404.88,335.06 405.48,334.55 406.11,334.03 406.78,333.50 407.45,332.98 408.13,332.46 408.79,331.96 409.43,331.50 410.03,331.06 410.58,330.67 411.05,330.34 411.45,330.06 411.79,329.83 412.10,329.62 412.40,329.43 412.73,329.24 413.10,329.04 413.55,328.81 414.09,328.55 414.75,328.23 415.54,327.87 416.43,327.46 417.42,327.02 418.47,326.56 419.57,326.08 420.70,325.60 421.85,325.12 422.99,324.64 424.10,324.19 425.17,323.76 426.26,323.34 427.43,322.90 428.63,322.45 429.85,322.01 431.04,321.59 432.18,321.18 433.24,320.81 434.18,320.47 434.98,320.19 435.60,319.97" fill="none" stroke="#111" stroke-width="1.0" stroke-linejoin="round" stroke-linecap="round" />
<g fill="#222"><circle cx="393.90" cy="349.10" r="1.3"/><circle cx="394.53" cy="348.02" r="1.3"/><circle cx="395.15" cy="346.80" r="1.3"/><circle cx="395.98" cy="345.31" r="1.3"/><circle cx="397.03" cy="343.82" r="1.3"/><circle cx="398.07" cy="342.33" r="1.3"/><circle cx="400.15" cy="340.16" r="1.3"/><circle cx="404.32" cy="335.55" r="1.3"/><circle cx="410.58" cy="330.67" r="1.3"/><circle cx="414.75" cy="328.23" r="1.3"/><circle cx="425.17" cy="323.76" r="1.3"/><circle cx="435.60" cy="319.97" r="1.3"/></g>
<text x="388.20" y="350.80" font-size="4.7" fill="#222" stroke="#222" stroke-width="0.16" text-anchor="end" font-weight="normal" font-family="'Liberation Sans', Arial, sans-serif" font-style="normal" >0</text>
<line x1="389.60" y1="349.10" x2="391.00" y2="349.10" stroke="#333" stroke-width="0.6" />
<text x="388.20" y="344.03" font-size="4.7" fill="#222" stroke="#222" stroke-width="0.16" text-anchor="end" font-weight="normal" font-family="'Liberation Sans', Arial, sans-serif" font-style="normal" >250</text>
<line x1="389.60" y1="342.33" x2="391.00" y2="342.33" stroke="#333" stroke-width="0.6" />
<text x="388.20" y="337.25" font-size="4.7" fill="#222" stroke="#222" stroke-width="0.16" text-anchor="end" font-weight="normal" font-family="'Liberation Sans', Arial, sans-serif" font-style="normal" >500</text>
<line x1="389.60" y1="335.55" x2="391.00" y2="335.55" stroke="#333" stroke-width="0.6" />
<text x="388.20" y="330.48" font-size="4.7" fill="#222" stroke="#222" stroke-width="0.16" text-anchor="end" font-weight="normal" font-family="'Liberation Sans', Arial, sans-serif" font-style="normal" >750</text>
<line x1="389.60" y1="328.78" x2="391.00" y2="328.78" stroke="#333" stroke-width="0.6" />
<text x="388.20" y="323.70" font-size="4.7" fill="#222" stroke="#222" stroke-width="0.16" text-anchor="end" font-weight="normal" font-family="'Liberation Sans', Arial, sans-serif" font-style="normal" >1000</text>
<line x1="389.60" y1="322.00" x2="391.00" y2="322.00" stroke="#333" stroke-width="0.6" />
<text x="393.90" y="357.40" font-size="4.7" fill="#222" stroke="#222" stroke-width="0.16" text-anchor="middle" font-weight="normal" font-family="'Liberation Sans', Arial, sans-serif" font-style="normal" >0</text>
<line x1="393.90" y1="352.00" x2="393.90" y2="350.70" stroke="#333" stroke-width="0.6" />
<text x="404.32" y="357.40" font-size="4.7" fill="#222" stroke="#222" stroke-width="0.16" text-anchor="middle" font-weight="normal" font-family="'Liberation Sans', Arial, sans-serif" font-style="normal" >5</text>
<line x1="404.32" y1="352.00" x2="404.32" y2="350.70" stroke="#333" stroke-width="0.6" />
<text x="414.75" y="357.40" font-size="4.7" fill="#222" stroke="#222" stroke-width="0.16" text-anchor="middle" font-weight="normal" font-family="'Liberation Sans', Arial, sans-serif" font-style="normal" >10</text>
<line x1="414.75" y1="352.00" x2="414.75" y2="350.70" stroke="#333" stroke-width="0.6" />
<text x="425.17" y="357.40" font-size="4.7" fill="#222" stroke="#222" stroke-width="0.16" text-anchor="middle" font-weight="normal" font-family="'Liberation Sans', Arial, sans-serif" font-style="normal" >15</text>
<line x1="425.17" y1="352.00" x2="425.17" y2="350.70" stroke="#333" stroke-width="0.6" />
<text x="435.60" y="357.40" font-size="4.7" fill="#222" stroke="#222" stroke-width="0.16" text-anchor="middle" font-weight="normal" font-family="'Liberation Sans', Arial, sans-serif" font-style="normal" >20</text>
<line x1="435.60" y1="352.00" x2="435.60" y2="350.70" stroke="#333" stroke-width="0.6" />
<text x="442.40" y="357.40" font-size="4.7" fill="#222" stroke="#222" stroke-width="0.16" text-anchor="middle" font-weight="normal" font-family="'Liberation Sans', Arial, sans-serif" font-style="normal" >V</text>
<text x="379.60" y="316.50" font-size="4.7" fill="#222" stroke="#222" stroke-width="0.16" text-anchor="start" font-weight="normal" font-family="'Liberation Sans', Arial, sans-serif" font-style="normal" >A/W</text>
<text x="410.90" y="339.00" font-size="4.7" fill="#222" stroke="#222" stroke-width="0.16" text-anchor="start" font-weight="normal" font-family="'Liberation Sans', Arial, sans-serif" font-style="normal" textLength="17.3" lengthAdjust="spacingAndGlyphs" >1080 nm</text>
<rect x="453.40" y="316.30" width="51.20" height="35.70" fill="#fff" stroke="#2a2a2a" stroke-width="1.1" />
<polyline points="457.30,348.00 457.43,347.82 457.60,347.60 457.80,347.33 458.03,347.03 458.28,346.70 458.53,346.36 458.79,346.01 459.04,345.66 459.28,345.32 459.50,345.00 459.71,344.69 459.91,344.37 460.11,344.05 460.31,343.72 460.51,343.39 460.70,343.07 460.90,342.74 461.10,342.42 461.30,342.11 461.50,341.80 461.70,341.50 461.88,341.22 462.05,340.94 462.22,340.67 462.40,340.39 462.59,340.12 462.80,339.83 463.03,339.54 463.30,339.23 463.60,338.90 463.94,338.56 464.31,338.21 464.70,337.86 465.12,337.49 465.56,337.12 466.02,336.73 466.50,336.33 466.99,335.90 467.49,335.46 468.00,335.00 468.53,334.50 469.10,333.94 469.70,333.35 470.31,332.74 470.93,332.12 471.55,331.51 472.17,330.92 472.77,330.36 473.35,329.85 473.90,329.40 474.39,329.02 474.82,328.71 475.22,328.46 475.59,328.23 475.96,328.02 476.36,327.82 476.80,327.60 477.31,327.35 477.90,327.06 478.60,326.70 479.41,326.26 480.33,325.76 481.32,325.20 482.37,324.61 483.48,324.01 484.61,323.41 485.75,322.84 486.89,322.32 488.02,321.87 489.10,321.50 490.21,321.21 491.40,320.98 492.63,320.81 493.88,320.67 495.11,320.57 496.28,320.50 497.37,320.45 498.34,320.40 499.16,320.35 499.80,320.30" fill="none" stroke="#d03a3a" stroke-width="1.1" stroke-linejoin="round" stroke-linecap="round" />
<polyline points="457.30,348.00 457.43,347.87 457.60,347.69 457.80,347.49 458.03,347.26 458.28,347.01 458.53,346.76 458.79,346.50 459.04,346.25 459.28,346.01 459.50,345.80 459.71,345.60 459.91,345.41 460.11,345.22 460.31,345.04 460.51,344.86 460.70,344.68 460.90,344.51 461.10,344.33 461.30,344.17 461.50,344.00 461.70,343.85 461.88,343.71 462.05,343.59 462.22,343.48 462.40,343.36 462.59,343.24 462.80,343.09 463.03,342.93 463.30,342.73 463.60,342.50 463.94,342.23 464.31,341.92 464.70,341.58 465.12,341.23 465.56,340.85 466.02,340.46 466.50,340.07 466.99,339.67 467.49,339.28 468.00,338.90 468.53,338.51 469.10,338.10 469.70,337.68 470.31,337.26 470.93,336.83 471.55,336.42 472.17,336.02 472.77,335.64 473.35,335.30 473.90,335.00 474.39,334.75 474.82,334.55 475.22,334.40 475.59,334.27 475.96,334.15 476.36,334.03 476.80,333.90 477.31,333.75 477.90,333.55 478.60,333.30 479.41,332.99 480.33,332.62 481.32,332.20 482.37,331.76 483.48,331.31 484.61,330.86 485.75,330.43 486.89,330.04 488.02,329.69 489.10,329.40 490.21,329.17 491.40,328.98 492.63,328.83 493.88,328.71 495.11,328.61 496.28,328.53 497.37,328.46 498.34,328.40 499.16,328.35 499.80,328.30" fill="none" stroke="#4858a8" stroke-width="1.1" stroke-linejoin="round" stroke-linecap="round" />
<g fill="#d03a3a"><circle cx="457.30" cy="348.00" r="1.35"/><circle cx="459.50" cy="345.00" r="1.35"/><circle cx="461.50" cy="341.80" r="1.35"/><circle cx="463.60" cy="338.90" r="1.35"/><circle cx="468.00" cy="335.00" r="1.35"/><circle cx="473.90" cy="329.40" r="1.35"/><circle cx="478.60" cy="326.70" r="1.35"/><circle cx="489.10" cy="321.50" r="1.35"/><circle cx="499.80" cy="320.30" r="1.35"/></g>
<g fill="#4858a8"><circle cx="457.30" cy="348.00" r="1.35"/><circle cx="459.50" cy="345.80" r="1.35"/><circle cx="461.50" cy="344.00" r="1.35"/><circle cx="463.60" cy="342.50" r="1.35"/><circle cx="468.00" cy="338.90" r="1.35"/><circle cx="473.90" cy="335.00" r="1.35"/><circle cx="478.60" cy="333.30" r="1.35"/><circle cx="489.10" cy="329.40" r="1.35"/><circle cx="499.80" cy="328.30" r="1.35"/></g>
<text x="452.30" y="350.00" font-size="4.7" fill="#222" stroke="#222" stroke-width="0.16" text-anchor="end" font-weight="normal" font-family="'Liberation Sans', Arial, sans-serif" font-style="normal" >0.0</text>
<line x1="453.40" y1="348.30" x2="454.80" y2="348.30" stroke="#333" stroke-width="0.6" />
<text x="452.30" y="343.00" font-size="4.7" fill="#222" stroke="#222" stroke-width="0.16" text-anchor="end" font-weight="normal" font-family="'Liberation Sans', Arial, sans-serif" font-style="normal" >0.2</text>
<line x1="453.40" y1="341.30" x2="454.80" y2="341.30" stroke="#333" stroke-width="0.6" />
<text x="452.30" y="336.00" font-size="4.7" fill="#222" stroke="#222" stroke-width="0.16" text-anchor="end" font-weight="normal" font-family="'Liberation Sans', Arial, sans-serif" font-style="normal" >0.4</text>
<line x1="453.40" y1="334.30" x2="454.80" y2="334.30" stroke="#333" stroke-width="0.6" />
<text x="452.30" y="329.00" font-size="4.7" fill="#222" stroke="#222" stroke-width="0.16" text-anchor="end" font-weight="normal" font-family="'Liberation Sans', Arial, sans-serif" font-style="normal" >0.6</text>
<line x1="453.40" y1="327.30" x2="454.80" y2="327.30" stroke="#333" stroke-width="0.6" />
<text x="452.30" y="322.00" font-size="4.7" fill="#222" stroke="#222" stroke-width="0.16" text-anchor="end" font-weight="normal" font-family="'Liberation Sans', Arial, sans-serif" font-style="normal" >0.8</text>
<line x1="453.40" y1="320.30" x2="454.80" y2="320.30" stroke="#333" stroke-width="0.6" />
<text x="457.30" y="357.40" font-size="4.7" fill="#222" stroke="#222" stroke-width="0.16" text-anchor="middle" font-weight="normal" font-family="'Liberation Sans', Arial, sans-serif" font-style="normal" >0</text>
<line x1="457.30" y1="352.00" x2="457.30" y2="350.70" stroke="#333" stroke-width="0.6" />
<text x="467.85" y="357.40" font-size="4.7" fill="#222" stroke="#222" stroke-width="0.16" text-anchor="middle" font-weight="normal" font-family="'Liberation Sans', Arial, sans-serif" font-style="normal" >5</text>
<line x1="467.85" y1="352.00" x2="467.85" y2="350.70" stroke="#333" stroke-width="0.6" />
<text x="478.40" y="357.40" font-size="4.7" fill="#222" stroke="#222" stroke-width="0.16" text-anchor="middle" font-weight="normal" font-family="'Liberation Sans', Arial, sans-serif" font-style="normal" >10</text>
<line x1="478.40" y1="352.00" x2="478.40" y2="350.70" stroke="#333" stroke-width="0.6" />
<text x="488.95" y="357.40" font-size="4.7" fill="#222" stroke="#222" stroke-width="0.16" text-anchor="middle" font-weight="normal" font-family="'Liberation Sans', Arial, sans-serif" font-style="normal" >15</text>
<line x1="488.95" y1="352.00" x2="488.95" y2="350.70" stroke="#333" stroke-width="0.6" />
<text x="499.50" y="357.40" font-size="4.7" fill="#222" stroke="#222" stroke-width="0.16" text-anchor="middle" font-weight="normal" font-family="'Liberation Sans', Arial, sans-serif" font-style="normal" >20</text>
<line x1="499.50" y1="352.00" x2="499.50" y2="350.70" stroke="#333" stroke-width="0.6" />
<text x="506.20" y="357.40" font-size="4.7" fill="#222" stroke="#222" stroke-width="0.16" text-anchor="middle" font-weight="normal" font-family="'Liberation Sans', Arial, sans-serif" font-style="normal" >V</text>
<text x="443.20" y="316.50" font-size="4.7" fill="#222" stroke="#222" stroke-width="0.16" text-anchor="start" font-weight="normal" font-family="'Liberation Sans', Arial, sans-serif" font-style="normal" >A/W</text>
<text x="458.90" y="323.20" font-size="4.7" fill="#d03a3a" stroke="#d03a3a" stroke-width="0.16" text-anchor="start" font-weight="normal" font-family="'Liberation Sans', Arial, sans-serif" font-style="normal" textLength="18" lengthAdjust="spacingAndGlyphs" >1550 nm</text>
<text x="477.50" y="342.10" font-size="4.7" fill="#4858a8" stroke="#4858a8" stroke-width="0.16" text-anchor="start" font-weight="normal" font-family="'Liberation Sans', Arial, sans-serif" font-style="normal" textLength="16.8" lengthAdjust="spacingAndGlyphs" >1310 nm</text>
<text x="342.20" y="243.90" font-size="13.8" fill="#111" stroke="#111" stroke-width="0.3" text-anchor="start" font-weight="bold" font-family="'Liberation Serif', 'Times New Roman', serif" font-style="normal" >(h)</text>
<text x="7.20" y="21.60" font-size="13.6" fill="#111" stroke="#111" stroke-width="0.3" text-anchor="start" font-weight="bold" font-family="'Liberation Serif', 'Times New Roman', serif" font-style="normal" >(a)</text>
<polyline points="79.60,53.50 79.60,38.20 13.40,38.20 13.40,84.80 42.50,84.80" fill="none" stroke="#555" stroke-width="0.9" stroke-linejoin="round" stroke-linecap="butt"/>
<polyline points="46.00,84.80 79.90,84.80 79.90,80.20" fill="none" stroke="#555" stroke-width="0.8" stroke-linejoin="round" stroke-linecap="butt"/>
<line x1="42.50" y1="80.20" x2="42.50" y2="89.60" stroke="#555" stroke-width="0.8" />
<line x1="46.00" y1="82.60" x2="46.00" y2="87.20" stroke="#555" stroke-width="0.8" />
<circle cx="13.4" cy="60.7" r="5.3" fill="#fff" stroke="#555" stroke-width="0.8"/>
<text x="13.40" y="63.60" font-size="7.6" fill="#333" stroke="#333" stroke-width="0.16" text-anchor="middle" font-weight="normal" font-family="'Liberation Sans', Arial, sans-serif" font-style="normal" >V</text>
<polygon points="49.70,58.60 80.60,77.00 80.60,79.60 49.70,61.20" fill="#161616" stroke="none" stroke-width="0" />
<polygon points="80.60,77.00 122.50,59.80 122.50,62.40 80.60,79.60" fill="#1c1c1c" stroke="none" stroke-width="0" />
<polygon points="49.70,61.20 80.60,79.60 80.60,82.40 49.70,64.00" fill="#d4d4d4" stroke="none" stroke-width="0" />
<polygon points="80.60,79.60 122.50,62.40 122.50,65.20 80.60,82.40" fill="#c4c4c4" stroke="none" stroke-width="0" />
<polygon points="49.70,64.00 80.60,82.40 80.60,83.40 49.70,65.00" fill="#8a8a8a" stroke="none" stroke-width="0" />
<polygon points="80.60,82.40 122.50,65.20 122.50,66.20 80.60,83.40" fill="#7a7a7a" stroke="none" stroke-width="0" />
<polygon points="49.70,58.60 91.20,41.00 122.50,59.80 80.60,77.00" fill="#0e0e0e" stroke="none" stroke-width="0" />
<polygon points="59.70,57.40 87.90,45.00 94.84,49.06 66.64,61.46" fill="#b4b3a0" stroke="none" stroke-width="0" />
<polygon points="59.70,57.40 63.08,55.91 87.88,70.41 84.50,71.90" fill="#b4b3a0" stroke="none" stroke-width="0" />
<polygon points="67.97,53.76 71.36,52.27 96.16,66.77 92.77,68.26" fill="#b4b3a0" stroke="none" stroke-width="0" />
<polygon points="76.24,50.13 79.63,48.64 104.43,63.14 101.04,64.63" fill="#b4b3a0" stroke="none" stroke-width="0" />
<polygon points="84.52,46.49 87.90,45.00 112.70,59.50 109.32,60.99" fill="#b4b3a0" stroke="none" stroke-width="0" />
<defs><linearGradient id="beamAx" x1="0" y1="0" x2="1" y2="0"><stop offset="0" stop-color="#d85868"/><stop offset="0.25" stop-color="#c42a3a"/><stop offset="0.55" stop-color="#cc3444"/><stop offset="0.85" stop-color="#e07480"/><stop offset="1" stop-color="#eea0a8"/></linearGradient><linearGradient id="beamAv" x1="0" y1="0" x2="0" y2="1"><stop offset="0" stop-color="#fff" stop-opacity="0"/><stop offset="0.12" stop-color="#fff" stop-opacity="0.85"/><stop offset="0.7" stop-color="#fff" stop-opacity="0.9"/><stop offset="1" stop-color="#fff" stop-opacity="0.6"/></linearGradient><mask id="beamAm"><rect x="80" y="20" width="14" height="39" fill="url(#beamAv)"/></mask></defs>
<g mask="url(#beamAm)">
<rect x="82.80" y="20.50" width="7.60" height="38.00" fill="url(#beamAx)" stroke="none" stroke-width="0" />
</g>
<ellipse cx="86.8" cy="56.8" rx="5.0" ry="2.4" fill="#c83040" opacity="0.3"/>
<text x="94.80" y="29.60" font-size="5.0" fill="#333" stroke="#333" stroke-width="0.16" text-anchor="start" font-weight="normal" font-family="'Liberation Sans', Arial, sans-serif" font-style="italic" textLength="19.2" lengthAdjust="spacingAndGlyphs" >1310 nm</text>
<clipPath id="aclip"><rect x="0" y="0" width="167.6" height="100"/></clipPath><g clip-path="url(#aclip)">
<line x1="104.00" y1="47.20" x2="116.80" y2="47.20" stroke="#555" stroke-width="0.8" />
<line x1="114.80" y1="54.20" x2="119.50" y2="54.20" stroke="#555" stroke-width="0.8" />
<line x1="122.90" y1="62.20" x2="134.70" y2="62.20" stroke="#555" stroke-width="0.8" />
<line x1="114.80" y1="69.00" x2="128.90" y2="69.00" stroke="#555" stroke-width="0.8" />
<text x="118.80" y="49.00" font-size="5.6" fill="#333" stroke="#333" stroke-width="0.16" text-anchor="start" font-weight="normal" font-family="'Liberation Sans', Arial, sans-serif" font-style="normal" textLength="42.8" lengthAdjust="spacingAndGlyphs" >front electrode (Al)</text>
<text x="120.90" y="56.00" font-size="5.6" fill="#333" stroke="#333" stroke-width="0.16" text-anchor="start" font-weight="normal" font-family="'Liberation Sans', Arial, sans-serif" font-style="normal" textLength="48.5" lengthAdjust="spacingAndGlyphs" >laser treated layer (N</text>
<text x="136.60" y="64.00" font-size="5.6" fill="#333" stroke="#333" stroke-width="0.16" text-anchor="start" font-weight="normal" font-family="'Liberation Sans', Arial, sans-serif" font-style="normal" textLength="33.0" lengthAdjust="spacingAndGlyphs" >Si substrate (N</text>
<text x="129.90" y="70.80" font-size="5.6" fill="#333" stroke="#333" stroke-width="0.16" text-anchor="start" font-weight="normal" font-family="'Liberation Sans', Arial, sans-serif" font-style="normal" textLength="39.5" lengthAdjust="spacingAndGlyphs" >back electrode (A</text>
</g>
<text x="170.60" y="21.30" font-size="13.8" fill="#111" stroke="#111" stroke-width="0.3" text-anchor="start" font-weight="bold" font-family="'Liberation Serif', 'Times New Roman', serif" font-style="normal" >(c)</text>
<text x="175.50" y="43.00" font-size="7.1" fill="#222" stroke="#222" stroke-width="0.3" text-anchor="start" font-weight="bold" font-family="'Liberation Sans', Arial, sans-serif" font-style="normal" textLength="70.3" lengthAdjust="spacingAndGlyphs" >single absorbing layer</text>
<text x="251.90" y="42.40" font-size="7.1" fill="#222" stroke="#222" stroke-width="0.3" text-anchor="start" font-weight="bold" font-family="'Liberation Sans', Arial, sans-serif" font-style="normal" textLength="74.6" lengthAdjust="spacingAndGlyphs" >double absorbing layer</text>
<line x1="188.80" y1="55.50" x2="201.00" y2="55.50" stroke="#999" stroke-width="0.6" />
<line x1="231.00" y1="55.80" x2="241.50" y2="55.80" stroke="#c89a8a" stroke-width="0.6" />
<line x1="264.60" y1="55.80" x2="300.00" y2="55.80" stroke="#c89a8a" stroke-width="0.6" />
<line x1="307.00" y1="55.80" x2="318.50" y2="55.80" stroke="#999" stroke-width="0.6" />
<line x1="222.00" y1="80.30" x2="241.50" y2="80.30" stroke="#c89a8a" stroke-width="0.6" />
<line x1="219.00" y1="85.00" x2="240.50" y2="85.00" stroke="#c89a8a" stroke-width="0.6" />
<line x1="264.60" y1="85.20" x2="293.00" y2="85.20" stroke="#c89a8a" stroke-width="0.6" />
<line x1="300.00" y1="85.80" x2="318.50" y2="85.80" stroke="#999" stroke-width="0.6" />
<polygon points="177.80,65.90 210.60,82.60 210.60,85.20 177.80,68.50" fill="#141414" stroke="none" stroke-width="0" />
<polygon points="210.60,82.60 248.00,66.80 248.00,69.40 210.60,85.20" fill="#1a1a1a" stroke="none" stroke-width="0" />
<polygon points="177.80,68.50 210.60,85.20 210.60,88.60 177.80,71.90" fill="#cfc8b8" stroke="none" stroke-width="0" />
<polygon points="210.60,85.20 248.00,69.40 248.00,72.80 210.60,88.60" fill="#bdb6a6" stroke="none" stroke-width="0" />
<polygon points="177.80,71.90 210.60,88.60 210.60,89.50 177.80,72.80" fill="#a89888" stroke="none" stroke-width="0" />
<polygon points="210.60,88.60 248.00,72.80 248.00,73.70 210.60,89.50" fill="#988878" stroke="none" stroke-width="0" />
<polygon points="177.80,65.90 218.80,48.60 248.00,66.80 210.60,82.60" fill="#0e0e0e" stroke="none" stroke-width="0" />
<polygon points="187.30,66.50 217.60,53.00 224.14,57.08 193.84,70.58" fill="#c3bfa6" stroke="none" stroke-width="0" />
<polygon points="187.30,66.50 190.03,65.28 211.83,78.88 209.10,80.10" fill="#c3bfa6" stroke="none" stroke-width="0" />
<polygon points="196.49,62.41 199.22,61.19 221.02,74.79 218.29,76.00" fill="#c3bfa6" stroke="none" stroke-width="0" />
<polygon points="205.68,58.31 208.41,57.09 230.21,70.69 227.48,71.91" fill="#c3bfa6" stroke="none" stroke-width="0" />
<polygon points="214.87,54.22 217.60,53.00 239.40,66.60 236.67,67.81" fill="#c3bfa6" stroke="none" stroke-width="0" />
<polygon points="256.90,66.40 291.40,82.80 291.40,84.80 256.90,68.40" fill="#141414" stroke="none" stroke-width="0" />
<polygon points="291.40,82.80 328.10,66.90 328.10,68.90 291.40,84.80" fill="#1a1a1a" stroke="none" stroke-width="0" />
<polygon points="256.90,68.40 291.40,84.80 291.40,86.80 256.90,70.40" fill="#e8e4dc" stroke="none" stroke-width="0" />
<polygon points="291.40,84.80 328.10,68.90 328.10,70.90 291.40,86.80" fill="#d8d4cc" stroke="none" stroke-width="0" />
<polygon points="256.90,70.40 291.40,86.80 291.40,88.80 256.90,72.40" fill="#1a1a1a" stroke="none" stroke-width="0" />
<polygon points="291.40,86.80 328.10,70.90 328.10,72.90 291.40,88.80" fill="#222" stroke="none" stroke-width="0" />
<polygon points="256.90,72.40 291.40,88.80 291.40,89.60 256.90,73.20" fill="#b09080" stroke="none" stroke-width="0" />
<polygon points="291.40,88.80 328.10,72.90 328.10,73.70 291.40,89.60" fill="#a08070" stroke="none" stroke-width="0" />
<polygon points="256.90,66.40 297.40,48.90 328.10,66.90 291.40,82.80" fill="#0e0e0e" stroke="none" stroke-width="0" />
<polygon points="266.30,66.50 295.80,53.60 302.79,57.23 273.29,70.13" fill="#c3bfa6" stroke="none" stroke-width="0" />
<polygon points="266.30,66.50 268.95,65.34 292.25,77.44 289.60,78.60" fill="#c3bfa6" stroke="none" stroke-width="0" />
<polygon points="275.25,62.59 277.90,61.43 301.20,73.53 298.55,74.69" fill="#c3bfa6" stroke="none" stroke-width="0" />
<polygon points="284.20,58.67 286.85,57.51 310.15,69.61 307.50,70.77" fill="#c3bfa6" stroke="none" stroke-width="0" />
<polygon points="293.15,54.76 295.80,53.60 319.10,65.70 316.45,66.86" fill="#c3bfa6" stroke="none" stroke-width="0" />
<text x="175.20" y="57.00" font-size="4.3" fill="#333" stroke="#333" stroke-width="0.16" text-anchor="start" font-weight="normal" font-family="'Liberation Sans', Arial, sans-serif" font-style="normal" textLength="13.4" lengthAdjust="spacingAndGlyphs" >black Si</text>
<text x="242.00" y="57.30" font-size="4.3" fill="#333" stroke="#333" stroke-width="0.16" text-anchor="start" font-weight="normal" font-family="'Liberation Sans', Arial, sans-serif" font-style="normal" textLength="22.2" lengthAdjust="spacingAndGlyphs" >Al electrode</text>
<text x="318.80" y="57.30" font-size="4.3" fill="#333" stroke="#333" stroke-width="0.16" text-anchor="start" font-weight="normal" font-family="'Liberation Sans', Arial, sans-serif" font-style="normal" textLength="13.4" lengthAdjust="spacingAndGlyphs" >black Si</text>
<text x="242.00" y="81.80" font-size="4.3" fill="#333" stroke="#333" stroke-width="0.16" text-anchor="start" font-weight="normal" font-family="'Liberation Sans', Arial, sans-serif" font-style="normal" textLength="20.9" lengthAdjust="spacingAndGlyphs" >Si substrate</text>
<text x="240.70" y="86.50" font-size="4.3" fill="#333" stroke="#333" stroke-width="0.16" text-anchor="start" font-weight="normal" font-family="'Liberation Sans', Arial, sans-serif" font-style="normal" textLength="23.5" lengthAdjust="spacingAndGlyphs" >Au electrode</text>
<text x="318.80" y="87.40" font-size="4.3" fill="#333" stroke="#333" stroke-width="0.16" text-anchor="start" font-weight="normal" font-family="'Liberation Sans', Arial, sans-serif" font-style="normal" textLength="13.4" lengthAdjust="spacingAndGlyphs" >black Si</text>
<clipPath id="fclip"><rect x="366.8" y="1.4" width="152.09999999999997" height="107.3"/></clipPath>
<defs><linearGradient id="fbg" x1="0" y1="0" x2="1" y2="0.2"><stop offset="0" stop-color="#a9b3af"/><stop offset="0.45" stop-color="#b3bbb8"/><stop offset="0.72" stop-color="#c2c8c5"/><stop offset="1" stop-color="#cacfcd"/></linearGradient><linearGradient id="fbeam" x1="0" y1="0" x2="1" y2="0"><stop offset="0" stop-color="#e2b4b0"/><stop offset="0.03" stop-color="#d87462"/><stop offset="0.1" stop-color="#d8684a"/><stop offset="0.2" stop-color="#e09048"/><stop offset="0.3" stop-color="#e4b850"/><stop offset="0.4" stop-color="#dece58"/><stop offset="0.5" stop-color="#b8d050"/><stop offset="0.58" stop-color="#88c048"/><stop offset="0.66" stop-color="#72b452"/><stop offset="0.74" stop-color="#78b8b4"/><stop offset="0.8" stop-color="#70b0d8"/><stop offset="0.95" stop-color="#66a6d6"/><stop offset="1" stop-color="#a8c0d0"/></linearGradient><linearGradient id="fbeamv" x1="0" y1="0" x2="0" y2="1"><stop offset="0" stop-color="#fff" stop-opacity="0"/><stop offset="0.55" stop-color="#fff" stop-opacity="0"/><stop offset="1" stop-color="#fff" stop-opacity="0.0"/></linearGradient><linearGradient id="famp" x1="0" y1="0" x2="1" y2="0"><stop offset="0" stop-color="#5aa4ac"/><stop offset="1" stop-color="#3e8c96"/></linearGradient></defs>
<g clip-path="url(#fclip)">
<rect x="366.80" y="1.40" width="152.10" height="107.30" fill="url(#fbg)" stroke="none" stroke-width="0" />
<rect x="367.7" y="60" width="60" height="48" fill="#8e9a94" opacity="0.25"/>
<polygon points="405.80,1.20 458.30,1.20 454.90,48.00 412.80,48.00" fill="url(#fbeam)" stroke="none" stroke-width="0" />
<polygon points="381.00,95.40 482.60,95.00 481.80,102.40 378.20,105.00" fill="#66a864" stroke="none" stroke-width="0" />
<polygon points="378.20,105.00 481.80,102.40 481.50,103.60 378.50,106.30" fill="#3e6a4a" stroke="none" stroke-width="0" opacity="0.7"/>
<polygon points="395.40,47.60 381.00,95.40 378.40,105.00 376.60,104.60 389.50,53.00" fill="#c9d0cc" stroke="none" stroke-width="0" />
<polygon points="395.40,47.60 466.80,47.20 482.60,95.00 381.00,95.40" fill="#f2f3f3" stroke="none" stroke-width="0" />
<polygon points="404.50,49.80 461.00,49.60 463.00,78.00 401.50,78.20" fill="#bcc4d2" stroke="none" stroke-width="0" />
<ellipse cx="410.60" cy="52.60" rx="2.30" ry="1.9" fill="#2f3b56"/>
<ellipse cx="410.60" cy="52.00" rx="1.38" ry="0.9" fill="#56688f"/>
<ellipse cx="410.00" cy="56.40" rx="2.37" ry="1.9" fill="#2f3b56"/>
<ellipse cx="410.00" cy="55.80" rx="1.42" ry="0.9" fill="#56688f"/>
<ellipse cx="409.40" cy="60.20" rx="2.43" ry="1.9" fill="#2f3b56"/>
<ellipse cx="409.40" cy="59.60" rx="1.46" ry="0.9" fill="#56688f"/>
<ellipse cx="408.80" cy="64.00" rx="2.50" ry="1.9" fill="#2f3b56"/>
<ellipse cx="408.80" cy="63.40" rx="1.50" ry="0.9" fill="#56688f"/>
<ellipse cx="408.20" cy="67.80" rx="2.57" ry="1.9" fill="#2f3b56"/>
<ellipse cx="408.20" cy="67.20" rx="1.54" ry="0.9" fill="#56688f"/>
<ellipse cx="407.60" cy="71.60" rx="2.63" ry="1.9" fill="#2f3b56"/>
<ellipse cx="407.60" cy="71.00" rx="1.58" ry="0.9" fill="#56688f"/>
<ellipse cx="407.00" cy="75.40" rx="2.70" ry="1.9" fill="#2f3b56"/>
<ellipse cx="407.00" cy="74.80" rx="1.62" ry="0.9" fill="#56688f"/>
<ellipse cx="417.65" cy="52.60" rx="2.30" ry="1.9" fill="#2f3b56"/>
<ellipse cx="417.65" cy="52.00" rx="1.38" ry="0.9" fill="#56688f"/>
<ellipse cx="417.25" cy="56.40" rx="2.37" ry="1.9" fill="#2f3b56"/>
<ellipse cx="417.25" cy="55.80" rx="1.42" ry="0.9" fill="#56688f"/>
<ellipse cx="416.85" cy="60.20" rx="2.43" ry="1.9" fill="#2f3b56"/>
<ellipse cx="416.85" cy="59.60" rx="1.46" ry="0.9" fill="#56688f"/>
<ellipse cx="416.45" cy="64.00" rx="2.50" ry="1.9" fill="#2f3b56"/>
<ellipse cx="416.45" cy="63.40" rx="1.50" ry="0.9" fill="#56688f"/>
<ellipse cx="416.05" cy="67.80" rx="2.57" ry="1.9" fill="#2f3b56"/>
<ellipse cx="416.05" cy="67.20" rx="1.54" ry="0.9" fill="#56688f"/>
<ellipse cx="415.65" cy="71.60" rx="2.63" ry="1.9" fill="#2f3b56"/>
<ellipse cx="415.65" cy="71.00" rx="1.58" ry="0.9" fill="#56688f"/>
<ellipse cx="415.25" cy="75.40" rx="2.70" ry="1.9" fill="#2f3b56"/>
<ellipse cx="415.25" cy="74.80" rx="1.62" ry="0.9" fill="#56688f"/>
<ellipse cx="424.70" cy="52.60" rx="2.30" ry="1.9" fill="#2f3b56"/>
<ellipse cx="424.70" cy="52.00" rx="1.38" ry="0.9" fill="#56688f"/>
<ellipse cx="424.50" cy="56.40" rx="2.37" ry="1.9" fill="#2f3b56"/>
<ellipse cx="424.50" cy="55.80" rx="1.42" ry="0.9" fill="#56688f"/>
<ellipse cx="424.30" cy="60.20" rx="2.43" ry="1.9" fill="#2f3b56"/>
<ellipse cx="424.30" cy="59.60" rx="1.46" ry="0.9" fill="#56688f"/>
<ellipse cx="424.10" cy="64.00" rx="2.50" ry="1.9" fill="#2f3b56"/>
<ellipse cx="424.10" cy="63.40" rx="1.50" ry="0.9" fill="#56688f"/>
<ellipse cx="423.90" cy="67.80" rx="2.57" ry="1.9" fill="#2f3b56"/>
<ellipse cx="423.90" cy="67.20" rx="1.54" ry="0.9" fill="#56688f"/>
<ellipse cx="423.70" cy="71.60" rx="2.63" ry="1.9" fill="#2f3b56"/>
<ellipse cx="423.70" cy="71.00" rx="1.58" ry="0.9" fill="#56688f"/>
<ellipse cx="423.50" cy="75.40" rx="2.70" ry="1.9" fill="#2f3b56"/>
<ellipse cx="423.50" cy="74.80" rx="1.62" ry="0.9" fill="#56688f"/>
<ellipse cx="431.75" cy="52.60" rx="2.30" ry="1.9" fill="#2f3b56"/>
<ellipse cx="431.75" cy="52.00" rx="1.38" ry="0.9" fill="#56688f"/>
<ellipse cx="431.75" cy="56.40" rx="2.37" ry="1.9" fill="#2f3b56"/>
<ellipse cx="431.75" cy="55.80" rx="1.42" ry="0.9" fill="#56688f"/>
<ellipse cx="431.75" cy="60.20" rx="2.43" ry="1.9" fill="#2f3b56"/>
<ellipse cx="431.75" cy="59.60" rx="1.46" ry="0.9" fill="#56688f"/>
<ellipse cx="431.75" cy="64.00" rx="2.50" ry="1.9" fill="#2f3b56"/>
<ellipse cx="431.75" cy="63.40" rx="1.50" ry="0.9" fill="#56688f"/>
<ellipse cx="431.75" cy="67.80" rx="2.57" ry="1.9" fill="#2f3b56"/>
<ellipse cx="431.75" cy="67.20" rx="1.54" ry="0.9" fill="#56688f"/>
<ellipse cx="431.75" cy="71.60" rx="2.63" ry="1.9" fill="#2f3b56"/>
<ellipse cx="431.75" cy="71.00" rx="1.58" ry="0.9" fill="#56688f"/>
<ellipse cx="431.75" cy="75.40" rx="2.70" ry="1.9" fill="#2f3b56"/>
<ellipse cx="431.75" cy="74.80" rx="1.62" ry="0.9" fill="#56688f"/>
<ellipse cx="438.80" cy="52.60" rx="2.30" ry="1.9" fill="#2f3b56"/>
<ellipse cx="438.80" cy="52.00" rx="1.38" ry="0.9" fill="#56688f"/>
<ellipse cx="439.00" cy="56.40" rx="2.37" ry="1.9" fill="#2f3b56"/>
<ellipse cx="439.00" cy="55.80" rx="1.42" ry="0.9" fill="#56688f"/>
<ellipse cx="439.20" cy="60.20" rx="2.43" ry="1.9" fill="#2f3b56"/>
<ellipse cx="439.20" cy="59.60" rx="1.46" ry="0.9" fill="#56688f"/>
<ellipse cx="439.40" cy="64.00" rx="2.50" ry="1.9" fill="#2f3b56"/>
<ellipse cx="439.40" cy="63.40" rx="1.50" ry="0.9" fill="#56688f"/>
<ellipse cx="439.60" cy="67.80" rx="2.57" ry="1.9" fill="#2f3b56"/>
<ellipse cx="439.60" cy="67.20" rx="1.54" ry="0.9" fill="#56688f"/>
<ellipse cx="439.80" cy="71.60" rx="2.63" ry="1.9" fill="#2f3b56"/>
<ellipse cx="439.80" cy="71.00" rx="1.58" ry="0.9" fill="#56688f"/>
<ellipse cx="440.00" cy="75.40" rx="2.70" ry="1.9" fill="#2f3b56"/>
<ellipse cx="440.00" cy="74.80" rx="1.62" ry="0.9" fill="#56688f"/>
<ellipse cx="445.85" cy="52.60" rx="2.30" ry="1.9" fill="#2f3b56"/>
<ellipse cx="445.85" cy="52.00" rx="1.38" ry="0.9" fill="#56688f"/>
<ellipse cx="446.25" cy="56.40" rx="2.37" ry="1.9" fill="#2f3b56"/>
<ellipse cx="446.25" cy="55.80" rx="1.42" ry="0.9" fill="#56688f"/>
<ellipse cx="446.65" cy="60.20" rx="2.43" ry="1.9" fill="#2f3b56"/>
<ellipse cx="446.65" cy="59.60" rx="1.46" ry="0.9" fill="#56688f"/>
<ellipse cx="447.05" cy="64.00" rx="2.50" ry="1.9" fill="#2f3b56"/>
<ellipse cx="447.05" cy="63.40" rx="1.50" ry="0.9" fill="#56688f"/>
<ellipse cx="447.45" cy="67.80" rx="2.57" ry="1.9" fill="#2f3b56"/>
<ellipse cx="447.45" cy="67.20" rx="1.54" ry="0.9" fill="#56688f"/>
<ellipse cx="447.85" cy="71.60" rx="2.63" ry="1.9" fill="#2f3b56"/>
<ellipse cx="447.85" cy="71.00" rx="1.58" ry="0.9" fill="#56688f"/>
<ellipse cx="448.25" cy="75.40" rx="2.70" ry="1.9" fill="#2f3b56"/>
<ellipse cx="448.25" cy="74.80" rx="1.62" ry="0.9" fill="#56688f"/>
<ellipse cx="452.90" cy="52.60" rx="2.30" ry="1.9" fill="#2f3b56"/>
<ellipse cx="452.90" cy="52.00" rx="1.38" ry="0.9" fill="#56688f"/>
<ellipse cx="453.50" cy="56.40" rx="2.37" ry="1.9" fill="#2f3b56"/>
<ellipse cx="453.50" cy="55.80" rx="1.42" ry="0.9" fill="#56688f"/>
<ellipse cx="454.10" cy="60.20" rx="2.43" ry="1.9" fill="#2f3b56"/>
<ellipse cx="454.10" cy="59.60" rx="1.46" ry="0.9" fill="#56688f"/>
<ellipse cx="454.70" cy="64.00" rx="2.50" ry="1.9" fill="#2f3b56"/>
<ellipse cx="454.70" cy="63.40" rx="1.50" ry="0.9" fill="#56688f"/>
<ellipse cx="455.30" cy="67.80" rx="2.57" ry="1.9" fill="#2f3b56"/>
<ellipse cx="455.30" cy="67.20" rx="1.54" ry="0.9" fill="#56688f"/>
<ellipse cx="455.90" cy="71.60" rx="2.63" ry="1.9" fill="#2f3b56"/>
<ellipse cx="455.90" cy="71.00" rx="1.58" ry="0.9" fill="#56688f"/>
<ellipse cx="456.50" cy="75.40" rx="2.70" ry="1.9" fill="#2f3b56"/>
<ellipse cx="456.50" cy="74.80" rx="1.62" ry="0.9" fill="#56688f"/>
<defs><linearGradient id="fbeam2" x1="0" y1="0" x2="0" y2="1"><stop offset="0" stop-color="#fff" stop-opacity="0.95"/><stop offset="0.5" stop-color="#fff" stop-opacity="0.8"/><stop offset="0.8" stop-color="#fff" stop-opacity="0.45"/><stop offset="1" stop-color="#fff" stop-opacity="0.08"/></linearGradient><mask id="fmask"><rect x="360" y="47" width="160" height="31" fill="url(#fbeam2)"/></mask></defs>
<g mask="url(#fmask)">
<polygon points="412.80,47.60 454.90,47.60 452.80,78.00 417.00,78.00" fill="url(#fbeam)" stroke="none" stroke-width="0" />
</g>
<rect x="383.30" y="84.2" width="5.8" height="8.4" rx="2.4" fill="#4a4e52"/>
<rect x="384.60" y="85.0" width="3.2" height="2.6" rx="1.2" fill="#7a7e84"/>
<rect x="384.60" y="88.6" width="3.2" height="2.4" rx="1.1" fill="#6a6e74"/>
<rect x="391.80" y="84.2" width="5.8" height="8.4" rx="2.4" fill="#4a4e52"/>
<rect x="393.10" y="85.0" width="3.2" height="2.6" rx="1.2" fill="#7a7e84"/>
<rect x="393.10" y="88.6" width="3.2" height="2.4" rx="1.1" fill="#6a6e74"/>
<rect x="400.30" y="84.2" width="5.8" height="8.4" rx="2.4" fill="#4a4e52"/>
<rect x="401.60" y="85.0" width="3.2" height="2.6" rx="1.2" fill="#7a7e84"/>
<rect x="401.60" y="88.6" width="3.2" height="2.4" rx="1.1" fill="#6a6e74"/>
<rect x="408.80" y="84.2" width="5.8" height="8.4" rx="2.4" fill="#4a4e52"/>
<rect x="410.10" y="85.0" width="3.2" height="2.6" rx="1.2" fill="#7a7e84"/>
<rect x="410.10" y="88.6" width="3.2" height="2.4" rx="1.1" fill="#6a6e74"/>
<rect x="417.30" y="84.2" width="5.8" height="8.4" rx="2.4" fill="#4a4e52"/>
<rect x="418.60" y="85.0" width="3.2" height="2.6" rx="1.2" fill="#7a7e84"/>
<rect x="418.60" y="88.6" width="3.2" height="2.4" rx="1.1" fill="#6a6e74"/>
<rect x="425.80" y="84.2" width="5.8" height="8.4" rx="2.4" fill="#4a4e52"/>
<rect x="427.10" y="85.0" width="3.2" height="2.6" rx="1.2" fill="#7a7e84"/>
<rect x="427.10" y="88.6" width="3.2" height="2.4" rx="1.1" fill="#6a6e74"/>
<rect x="434.30" y="84.2" width="5.8" height="8.4" rx="2.4" fill="#4a4e52"/>
<rect x="435.60" y="85.0" width="3.2" height="2.6" rx="1.2" fill="#7a7e84"/>
<rect x="435.60" y="88.6" width="3.2" height="2.4" rx="1.1" fill="#6a6e74"/>
<rect x="442.80" y="84.2" width="5.8" height="8.4" rx="2.4" fill="#4a4e52"/>
<rect x="444.10" y="85.0" width="3.2" height="2.6" rx="1.2" fill="#7a7e84"/>
<rect x="444.10" y="88.6" width="3.2" height="2.4" rx="1.1" fill="#6a6e74"/>
<rect x="451.30" y="84.2" width="5.8" height="8.4" rx="2.4" fill="#4a4e52"/>
<rect x="452.60" y="85.0" width="3.2" height="2.6" rx="1.2" fill="#7a7e84"/>
<rect x="452.60" y="88.6" width="3.2" height="2.4" rx="1.1" fill="#6a6e74"/>
<rect x="459.80" y="84.2" width="5.8" height="8.4" rx="2.4" fill="#4a4e52"/>
<rect x="461.10" y="85.0" width="3.2" height="2.6" rx="1.2" fill="#7a7e84"/>
<rect x="461.10" y="88.6" width="3.2" height="2.4" rx="1.1" fill="#6a6e74"/>
<rect x="468.30" y="84.2" width="5.8" height="8.4" rx="2.4" fill="#4a4e52"/>
<rect x="469.60" y="85.0" width="3.2" height="2.6" rx="1.2" fill="#7a7e84"/>
<rect x="469.60" y="88.6" width="3.2" height="2.4" rx="1.1" fill="#6a6e74"/>
<polygon points="398.20,48.00 400.60,48.00 391.40,87.00 388.60,87.00" fill="#3a3e42" stroke="none" stroke-width="0" />
<circle cx="399.40" cy="49.50" r="1.3" fill="#55595e"/>
<circle cx="398.36" cy="53.50" r="1.3" fill="#55595e"/>
<circle cx="397.31" cy="57.50" r="1.3" fill="#55595e"/>
<circle cx="396.27" cy="61.50" r="1.3" fill="#55595e"/>
<circle cx="395.22" cy="65.50" r="1.3" fill="#55595e"/>
<circle cx="394.18" cy="69.50" r="1.3" fill="#55595e"/>
<circle cx="393.13" cy="73.50" r="1.3" fill="#55595e"/>
<circle cx="392.09" cy="77.50" r="1.3" fill="#55595e"/>
<circle cx="391.04" cy="81.50" r="1.3" fill="#55595e"/>
<circle cx="390.00" cy="85.50" r="1.3" fill="#55595e"/>
<polygon points="464.60,47.40 467.00,47.40 476.60,90.00 473.80,90.00" fill="#3a3e42" stroke="none" stroke-width="0" />
<circle cx="465.80" cy="49.00" r="1.3" fill="#55595e"/>
<circle cx="466.84" cy="53.39" r="1.3" fill="#55595e"/>
<circle cx="467.89" cy="57.78" r="1.3" fill="#55595e"/>
<circle cx="468.93" cy="62.17" r="1.3" fill="#55595e"/>
<circle cx="469.98" cy="66.56" r="1.3" fill="#55595e"/>
<circle cx="471.02" cy="70.94" r="1.3" fill="#55595e"/>
<circle cx="472.07" cy="75.33" r="1.3" fill="#55595e"/>
<circle cx="473.11" cy="79.72" r="1.3" fill="#55595e"/>
<circle cx="474.16" cy="84.11" r="1.3" fill="#55595e"/>
<circle cx="475.20" cy="88.50" r="1.3" fill="#55595e"/>
<line x1="385.00" y1="69.00" x2="377.20" y2="104.60" stroke="#2a4a30" stroke-width="0.9" stroke-dasharray="1.4,1.2"/>
<line x1="390.50" y1="43.00" x2="402.50" y2="51.50" stroke="#222" stroke-width="0.6" stroke-dasharray="1,0.8"/>
<line x1="393.00" y1="62.50" x2="403.00" y2="70.50" stroke="#222" stroke-width="0.6" stroke-dasharray="1,0.8"/>
<line x1="391.50" y1="76.00" x2="399.50" y2="81.00" stroke="#222" stroke-width="0.6" stroke-dasharray="1,0.8"/>
<text x="379.70" y="41.60" font-size="6.0" fill="#eef0ee" stroke="#eef0ee" stroke-width="0.16" text-anchor="start" font-weight="normal" font-family="'Liberation Sans', Arial, sans-serif" font-style="normal" textLength="19.9" lengthAdjust="spacingAndGlyphs" >a-Si: H</text>
<text x="378.60" y="58.40" font-size="6.0" fill="#eef0ee" stroke="#eef0ee" stroke-width="0.16" text-anchor="start" font-weight="normal" font-family="'Liberation Sans', Arial, sans-serif" font-style="normal" >Al</text>
<text x="368.10" y="65.80" font-size="6.0" fill="#eef0ee" stroke="#eef0ee" stroke-width="0.16" text-anchor="start" font-weight="normal" font-family="'Liberation Sans', Arial, sans-serif" font-style="normal" textLength="24.2" lengthAdjust="spacingAndGlyphs" >Contact</text>
<text x="422.30" y="102.00" font-size="7.0" fill="#dff2d6" stroke="#dff2d6" stroke-width="0.16" text-anchor="start" font-weight="normal" font-family="'Liberation Sans', Arial, sans-serif" font-style="normal" textLength="21.5" lengthAdjust="spacingAndGlyphs" >Silicon</text>
<rect x="470.30" y="9.30" width="37.50" height="23.10" fill="#dcdedd" stroke="#111" stroke-width="0.9" stroke-dasharray="2.2,1.1"/>
<rect x="474.10" y="12.20" width="30.30" height="17.30" fill="#55595c" stroke="none" stroke-width="0" />
<rect x="475.40" y="13.30" width="27.80" height="15.10" fill="#8a8e90" stroke="none" stroke-width="0" />
<rect x="478.50" y="14.60" width="19.20" height="11.10" fill="#3a3e52" stroke="none" stroke-width="0" />
<rect x="499.10" y="21.80" width="4.40" height="6.80" fill="#151515" stroke="none" stroke-width="0" />
<polyline points="470.00,58.30 479.20,58.30" fill="none" stroke="#555a5a" stroke-width="0.6" stroke-linejoin="round" stroke-linecap="round" />
<line x1="479.60" y1="55.20" x2="479.60" y2="61.40" stroke="#555a5a" stroke-width="0.7" />
<line x1="481.60" y1="56.60" x2="481.60" y2="60.00" stroke="#555a5a" stroke-width="0.7" />
<polyline points="482.00,58.30 486.50,58.30 487.80,59.60 487.80,64.60 489.00,65.80 497.50,65.80" fill="none" stroke="#555a5a" stroke-width="0.6" stroke-linejoin="round" stroke-linecap="round" />
<polyline points="470.00,83.20 483.50,83.20 485.20,81.60 485.20,76.50" fill="none" stroke="#555a5a" stroke-width="0.6" stroke-linejoin="round" stroke-linecap="round" />
<polyline points="485.20,68.50 485.20,66.00" fill="none" stroke="#555a5a" stroke-width="0.6" stroke-linejoin="round" stroke-linecap="round" />
<rect x="483.6" y="68.6" width="3.4" height="7.6" rx="1.2" fill="#d8c890" opacity="0.9"/>
<polyline points="487.00,78.20 497.50,78.20" fill="none" stroke="#555a5a" stroke-width="0.6" stroke-linejoin="round" stroke-linecap="round" />
<text x="477.20" y="51.00" font-size="6.0" fill="#eef0ee" stroke="#eef0ee" stroke-width="0.16" text-anchor="start" font-weight="normal" font-family="'Liberation Sans', Arial, sans-serif" font-style="normal" >V</text>
<text x="481.00" y="52.20" font-size="3.6" fill="#eef0ee" stroke="#eef0ee" stroke-width="0.16" text-anchor="start" font-weight="normal" font-family="'Liberation Sans', Arial, sans-serif" font-style="normal" >in</text>
<text x="478.80" y="75.00" font-size="5.2" fill="#eef0ee" stroke="#eef0ee" stroke-width="0.16" text-anchor="start" font-weight="normal" font-family="'Liberation Sans', Arial, sans-serif" font-style="normal" >R</text>
<polygon points="495.50,60.00 503.00,56.00 518.90,57.00 507.00,62.00" fill="#b0dce2" stroke="none" stroke-width="0" />
<polygon points="495.50,60.00 507.00,62.00 507.00,93.00 495.50,89.50" fill="#509ca4" stroke="none" stroke-width="0" />
<polygon points="507.00,62.00 518.90,57.00 518.90,90.00 507.00,93.00" fill="#7cbcc4" stroke="none" stroke-width="0" />
<text x="491.20" y="97.40" font-size="7.0" fill="#eef2f2" stroke="#eef2f2" stroke-width="0.16" text-anchor="start" font-weight="normal" font-family="'Liberation Sans', Arial, sans-serif" font-style="normal" textLength="23.8" lengthAdjust="spacingAndGlyphs" >Lock-in</text>
<text x="489.40" y="106.60" font-size="7.0" fill="#eef2f2" stroke="#eef2f2" stroke-width="0.16" text-anchor="start" font-weight="normal" font-family="'Liberation Sans', Arial, sans-serif" font-style="normal" textLength="29.3" lengthAdjust="spacingAndGlyphs" >Amplifier</text>
</g>
<text x="342.00" y="21.20" font-size="13.8" fill="#111" stroke="#111" stroke-width="0.3" text-anchor="start" font-weight="bold" font-family="'Liberation Serif', 'Times New Roman', serif" font-style="normal" >(f)</text>
</svg>
</body></html>
